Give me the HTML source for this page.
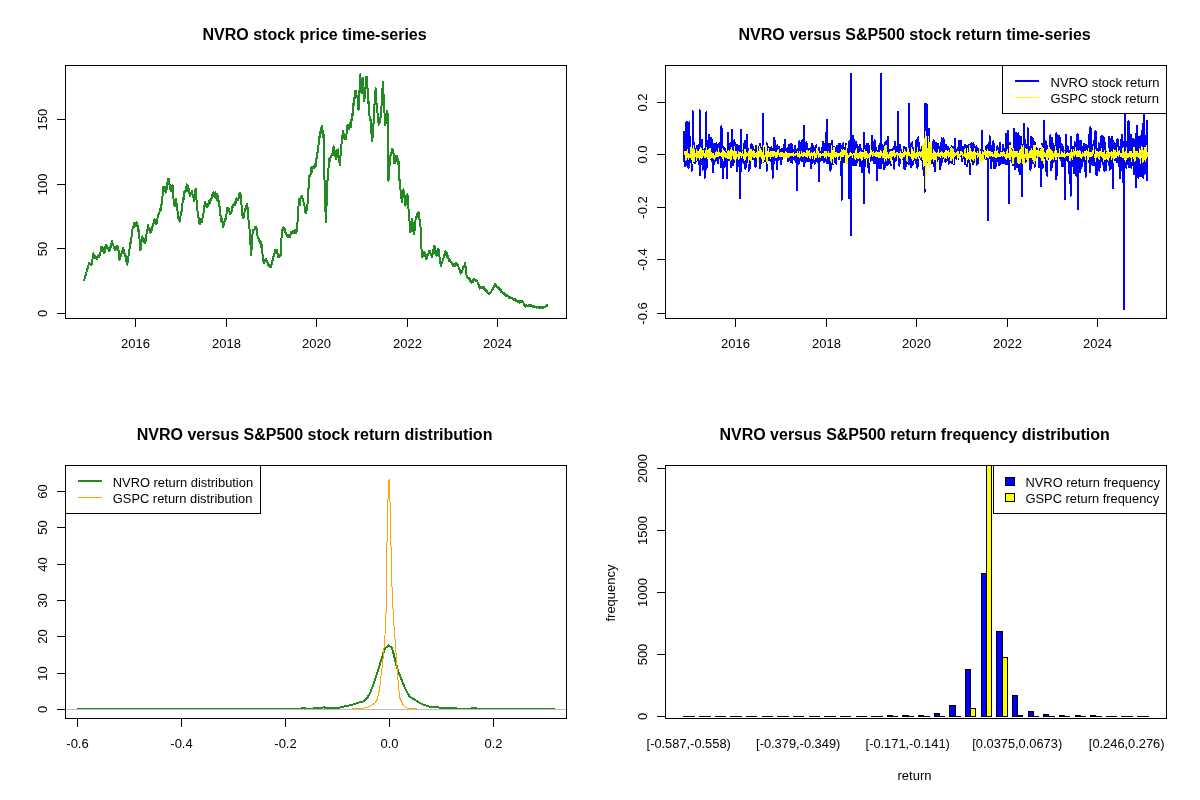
<!DOCTYPE html>
<html><head><meta charset="utf-8"><title>NVRO</title>
<style>
html,body{margin:0;padding:0;background:#fff;}
svg{display:block;font-family:'Liberation Sans', sans-serif;font-size:13px;fill:#000;}
svg path, svg rect{shape-rendering:crispEdges;}
</style></head><body>
<svg width="1200" height="800" viewBox="0 0 1200 800">
<rect x="0" y="0" width="1200" height="800" fill="#fff" stroke="none"/>
<text x="314.6" y="39.5" text-anchor="middle" font-size="16" font-weight="bold">NVRO stock price time-series</text>
<rect x="65.5" y="65.5" width="501.0" height="253.0" fill="none" stroke="#000" stroke-width="1"/>
<path d="M135.5 318.5H497.5" stroke="#000" fill="none"/>
<path d="M135.5 318.5v8M226.5 318.5v8M316.5 318.5v8M407.5 318.5v8M497.5 318.5v8" stroke="#000" fill="none"/>
<text x="135.5" y="348" text-anchor="middle">2016</text>
<text x="226.5" y="348" text-anchor="middle">2018</text>
<text x="316.5" y="348" text-anchor="middle">2020</text>
<text x="407.5" y="348" text-anchor="middle">2022</text>
<text x="497.5" y="348" text-anchor="middle">2024</text>
<path d="M65.5 313.5V119.7" stroke="#000" fill="none"/>
<path d="M65.5 313.5h-9M65.5 248.9h-9M65.5 184.3h-9M65.5 119.7h-9" stroke="#000" fill="none"/>
<text transform="translate(47 313.5) rotate(-90)" text-anchor="middle">0</text>
<text transform="translate(47 248.9) rotate(-90)" text-anchor="middle">50</text>
<text transform="translate(47 184.3) rotate(-90)" text-anchor="middle">100</text>
<text transform="translate(47 119.7) rotate(-90)" text-anchor="middle">150</text>
<path d="M83.8 280.9L84.1 279.9L84.4 279.5L84.6 278.1L84.9 277.1L85.2 275.8L85.4 275.4L85.7 275.5L86.0 274.1L86.2 273.7L86.5 272.0L86.8 271.4L87.0 270.7L87.3 269.7L87.6 267.3L87.8 268.6L88.1 267.5L88.4 266.6L88.6 263.9L88.9 263.0L89.1 263.7L89.4 263.1L89.7 263.7L89.9 264.5L90.2 264.4L90.4 265.1L90.7 264.3L91.0 265.3L91.2 265.5L91.5 265.4L91.7 262.8L92.0 263.1L92.3 260.1L92.6 258.8L92.8 255.1L93.1 253.8L93.4 253.4L93.6 254.2L93.9 254.8L94.1 255.9L94.4 255.9L94.7 255.6L94.9 255.5L95.2 256.3L95.4 258.4L95.7 256.8L95.9 258.2L96.2 258.8L96.4 258.7L96.7 257.1L96.9 258.3L97.2 259.2L97.5 255.8L97.7 257.2L98.0 257.1L98.2 256.2L98.5 257.2L98.7 256.4L99.0 254.8L99.2 256.8L99.5 256.3L99.7 255.4L100.0 255.0L100.3 254.2L100.6 251.7L100.9 250.0L101.1 247.1L101.4 247.1L101.7 248.2L101.9 247.2L102.2 247.8L102.4 247.3L102.7 248.0L102.9 248.9L103.2 251.2L103.4 248.1L103.7 249.0L104.0 251.2L104.2 252.9L104.5 252.3L104.7 252.1L105.0 248.9L105.3 247.0L105.5 248.9L105.8 246.5L106.1 244.8L106.4 244.8L106.6 246.4L106.9 246.9L107.1 246.3L107.4 246.8L107.6 247.5L107.9 249.2L108.2 248.5L108.4 248.9L108.7 249.3L108.9 247.5L109.2 251.0L109.4 251.0L109.7 250.5L109.9 250.0L110.2 246.3L110.5 246.8L110.7 247.4L111.0 243.5L111.2 244.3L111.5 244.7L111.7 241.0L112.0 241.5L112.3 244.1L112.5 243.6L112.8 243.5L113.1 244.8L113.3 245.9L113.6 246.0L113.9 247.9L114.1 246.6L114.4 247.6L114.7 248.8L114.9 249.6L115.2 248.6L115.4 247.5L115.7 249.3L115.9 249.6L116.2 247.6L116.4 246.4L116.7 247.6L116.9 247.5L117.2 247.2L117.5 248.9L117.7 246.3L118.0 247.1L118.2 250.6L118.5 250.0L118.8 252.6L119.1 256.2L119.3 258.7L119.6 259.7L119.9 259.7L120.1 258.3L120.4 257.2L120.6 256.3L120.9 255.8L121.2 254.2L121.4 253.8L121.7 253.2L121.9 251.7L122.2 251.6L122.4 250.5L122.7 251.2L122.9 248.1L123.2 249.3L123.5 249.3L123.7 250.2L124.0 251.4L124.2 253.1L124.5 252.7L124.7 254.2L125.0 256.2L125.3 255.4L125.5 254.6L125.8 257.0L126.1 259.6L126.4 261.1L126.7 262.3L127.0 263.0L127.2 264.7L127.5 263.5L127.8 261.4L128.0 258.9L128.3 260.0L128.5 256.2L128.8 253.5L129.0 252.2L129.3 250.3L129.6 248.8L129.8 247.1L130.1 242.4L130.3 243.3L130.6 243.4L130.8 239.1L131.1 238.8L131.3 238.4L131.6 236.6L131.9 235.8L132.1 230.0L132.4 230.1L132.6 228.5L132.9 227.3L133.1 227.8L133.4 228.1L133.7 222.6L133.9 227.4L134.2 223.6L134.5 226.2L134.7 222.9L135.0 224.9L135.3 226.0L135.5 223.8L135.8 223.9L136.1 224.4L136.3 223.2L136.6 222.5L136.8 222.3L137.1 225.6L137.4 226.1L137.7 225.5L138.0 230.8L138.3 226.7L138.6 230.6L138.8 230.6L139.1 233.6L139.4 237.4L139.7 241.4L139.9 244.1L140.2 247.9L140.5 250.5L140.8 246.6L141.0 244.4L141.3 244.5L141.6 240.5L141.9 238.2L142.1 237.2L142.4 236.4L142.7 239.5L142.9 239.3L143.2 240.5L143.4 238.0L143.7 239.5L143.9 238.5L144.2 241.2L144.4 242.5L144.7 240.0L144.9 243.0L145.2 243.0L145.5 242.2L145.7 240.1L146.0 236.1L146.2 238.4L146.5 234.7L146.7 232.2L147.0 231.7L147.3 229.8L147.5 229.5L147.8 225.6L148.0 224.8L148.3 228.2L148.5 229.2L148.8 229.6L149.1 227.9L149.3 227.7L149.6 230.5L149.8 229.8L150.1 230.4L150.3 232.6L150.6 230.9L150.8 228.8L151.1 232.2L151.3 230.7L151.6 227.8L151.9 230.3L152.1 228.6L152.4 226.3L152.6 226.1L152.9 226.3L153.1 224.2L153.4 224.9L153.6 222.0L153.9 222.5L154.1 222.2L154.4 219.0L154.7 222.3L155.0 219.9L155.2 223.1L155.5 220.1L155.8 222.2L156.1 224.6L156.3 220.7L156.6 223.8L156.8 219.3L157.1 219.9L157.3 218.5L157.6 217.5L157.9 215.5L158.1 215.6L158.4 214.0L158.6 214.8L158.9 212.9L159.2 213.1L159.4 213.2L159.7 210.7L160.0 208.5L160.2 209.0L160.5 211.0L160.8 207.3L161.0 208.1L161.3 204.8L161.5 205.2L161.8 202.6L162.1 198.9L162.3 198.1L162.6 194.7L162.8 190.0L163.1 186.9L163.3 187.5L163.6 186.8L163.9 190.2L164.1 188.0L164.4 187.9L164.7 188.6L164.9 187.7L165.2 190.8L165.5 189.4L165.7 192.7L166.0 192.5L166.3 186.8L166.5 190.3L166.8 187.1L167.1 183.3L167.3 186.9L167.6 183.6L167.9 178.5L168.1 179.7L168.4 180.5L168.6 178.6L168.9 179.0L169.2 182.8L169.4 184.1L169.7 185.3L169.9 186.0L170.2 189.2L170.4 189.3L170.7 190.3L171.0 190.8L171.2 186.1L171.5 190.6L171.8 190.5L172.1 186.5L172.3 185.3L172.6 185.2L172.9 192.2L173.2 188.9L173.4 196.3L173.7 203.1L174.0 200.8L174.3 205.7L174.6 205.8L174.8 206.5L175.1 202.2L175.4 202.3L175.7 201.8L175.9 199.1L176.2 199.6L176.5 202.9L176.7 205.6L177.0 208.4L177.3 209.0L177.5 210.7L177.8 211.5L178.1 214.5L178.3 218.3L178.6 219.0L178.8 219.6L179.1 218.7L179.4 219.2L179.6 222.1L179.9 221.3L180.2 221.1L180.4 218.5L180.7 211.8L181.0 214.7L181.2 212.6L181.5 212.6L181.8 208.8L182.0 206.1L182.3 205.2L182.6 202.4L182.8 198.0L183.1 201.9L183.4 199.5L183.6 196.6L183.9 198.9L184.1 198.7L184.4 191.8L184.7 192.0L184.9 192.5L185.2 190.8L185.5 190.5L185.7 188.9L186.0 187.2L186.2 191.6L186.5 189.6L186.8 184.9L187.0 184.4L187.3 189.0L187.5 185.2L187.8 188.2L188.0 191.0L188.3 190.2L188.6 188.3L188.8 191.6L189.1 188.4L189.3 192.1L189.6 194.5L189.8 195.8L190.1 196.0L190.4 193.1L190.7 193.5L191.0 193.8L191.3 192.9L191.5 192.7L191.8 190.8L192.1 192.3L192.3 192.5L192.6 195.6L192.9 195.3L193.1 194.9L193.4 196.4L193.6 198.6L193.9 199.5L194.2 200.8L194.4 199.1L194.7 196.9L195.0 195.3L195.3 192.8L195.5 188.8L195.8 189.2L196.1 193.5L196.4 198.2L196.6 200.7L196.9 203.2L197.2 207.8L197.5 210.7L197.7 211.3L198.0 212.0L198.3 217.1L198.6 217.7L198.8 222.3L199.1 223.3L199.4 221.4L199.6 218.9L199.9 220.8L200.1 224.1L200.4 221.1L200.6 219.4L200.9 219.9L201.2 221.4L201.4 221.0L201.7 220.2L201.9 221.8L202.2 220.4L202.4 219.0L202.7 217.1L202.9 216.2L203.2 216.0L203.5 213.1L203.7 211.4L204.0 206.2L204.2 205.9L204.5 205.5L204.7 202.4L205.0 202.3L205.3 204.9L205.5 204.4L205.8 205.3L206.1 203.7L206.3 206.5L206.6 206.5L206.9 204.7L207.1 205.6L207.4 205.7L207.7 206.5L207.9 204.2L208.2 205.7L208.4 205.3L208.7 203.2L208.9 200.7L209.2 202.5L209.4 202.3L209.7 203.1L209.9 202.0L210.2 200.2L210.5 201.1L210.7 199.1L211.0 199.7L211.2 198.8L211.5 198.2L211.7 197.3L212.0 198.6L212.2 195.2L212.5 195.6L212.7 196.3L213.0 193.4L213.2 194.8L213.5 192.4L213.8 193.7L214.0 195.6L214.3 195.2L214.5 193.8L214.8 193.1L215.0 193.2L215.3 192.4L215.5 197.6L215.8 195.8L216.0 197.4L216.3 194.5L216.5 196.3L216.8 194.1L217.1 199.2L217.3 200.0L217.6 195.8L217.8 199.5L218.1 201.3L218.3 200.8L218.6 200.0L218.8 201.1L219.1 204.0L219.4 206.4L219.6 206.8L219.9 210.8L220.1 212.8L220.4 215.0L220.6 215.7L220.9 218.0L221.2 220.5L221.4 221.2L221.7 218.9L221.9 221.4L222.2 221.9L222.5 223.2L222.7 225.9L223.0 227.3L223.2 226.5L223.5 226.3L223.8 222.6L224.0 222.2L224.3 223.1L224.6 222.0L224.8 221.0L225.1 220.6L225.4 218.7L225.6 219.0L225.9 218.8L226.1 217.2L226.4 215.3L226.6 213.3L226.9 212.8L227.2 207.7L227.4 209.2L227.7 209.6L227.9 208.4L228.2 207.6L228.5 209.8L228.7 210.3L229.0 208.5L229.3 210.8L229.5 211.3L229.8 213.0L230.1 213.8L230.3 213.4L230.6 214.0L230.8 212.0L231.1 212.3L231.4 211.6L231.6 212.1L231.9 210.7L232.1 208.3L232.4 206.5L232.6 207.3L232.9 206.0L233.1 204.6L233.4 205.4L233.6 204.0L233.9 204.1L234.2 203.9L234.4 204.2L234.7 202.3L234.9 204.9L235.2 201.6L235.4 203.6L235.7 201.6L235.9 202.9L236.2 198.3L236.4 199.0L236.7 200.3L237.0 200.5L237.2 199.1L237.5 199.9L237.7 198.8L238.0 199.9L238.2 198.7L238.5 198.6L238.7 197.4L239.0 195.8L239.2 196.5L239.5 193.3L239.8 196.9L240.0 192.7L240.3 194.4L240.5 193.5L240.8 200.0L241.0 198.6L241.3 201.8L241.6 206.4L241.8 207.3L242.1 208.8L242.3 213.2L242.6 216.4L242.8 218.3L243.1 218.3L243.4 215.0L243.7 217.7L244.0 216.5L244.3 212.9L244.5 212.2L244.8 210.7L245.1 209.3L245.3 211.5L245.6 207.4L245.9 208.8L246.1 206.3L246.4 205.2L246.6 206.7L246.9 207.0L247.1 204.1L247.4 206.8L247.7 208.5L247.9 213.6L248.2 215.1L248.4 218.3L248.7 222.8L249.0 225.0L249.2 225.5L249.5 228.9L249.7 236.3L250.0 237.8L250.3 243.1L250.6 245.9L250.8 251.0L251.1 255.4L251.4 249.7L251.7 249.7L252.0 245.4L252.2 238.5L252.5 234.2L252.8 232.2L253.0 229.8L253.3 233.0L253.5 230.5L253.8 230.6L254.1 229.9L254.3 229.8L254.6 228.1L254.8 229.2L255.1 226.9L255.3 228.3L255.6 228.5L255.8 228.3L256.1 227.3L256.4 228.3L256.6 228.7L256.9 231.5L257.2 232.0L257.4 235.9L257.7 236.2L257.9 236.4L258.2 237.3L258.5 238.4L258.7 240.5L259.0 239.7L259.3 240.5L259.5 241.4L259.8 241.9L260.0 242.1L260.3 243.0L260.5 241.0L260.8 242.0L261.1 242.2L261.3 247.4L261.6 244.3L261.9 247.9L262.1 250.7L262.4 252.8L262.6 255.1L262.9 256.6L263.2 259.2L263.4 261.0L263.7 263.0L264.0 263.3L264.2 260.4L264.5 260.8L264.7 261.1L265.0 259.7L265.3 259.2L265.5 260.3L265.8 258.6L266.0 258.7L266.3 260.1L266.6 260.9L266.8 261.2L267.1 262.1L267.4 262.3L267.6 261.9L267.9 263.8L268.1 265.0L268.4 264.8L268.7 266.0L268.9 265.9L269.2 266.5L269.5 265.1L269.7 266.3L270.0 266.8L270.3 265.2L270.5 265.7L270.8 265.4L271.1 266.8L271.3 265.4L271.6 264.6L271.8 264.1L272.1 261.7L272.3 261.3L272.6 260.3L272.9 257.6L273.1 259.6L273.4 258.1L273.6 254.5L273.9 255.9L274.1 254.0L274.4 253.6L274.6 252.1L274.9 252.3L275.2 250.2L275.4 251.3L275.7 252.9L275.9 250.6L276.2 249.9L276.4 249.7L276.7 249.7L277.0 250.5L277.2 251.8L277.5 254.2L277.8 253.9L278.1 254.7L278.3 257.2L278.6 256.4L278.9 255.8L279.2 255.5L279.5 256.5L279.8 256.4L280.0 254.7L280.3 254.6L280.6 255.4L280.9 250.8L281.1 245.8L281.4 239.0L281.7 235.3L281.9 230.6L282.2 229.4L282.5 230.2L282.8 229.0L283.1 228.6L283.3 227.7L283.6 229.2L283.9 227.3L284.2 229.9L284.5 228.3L284.7 230.7L285.0 229.3L285.3 231.1L285.5 232.8L285.8 234.5L286.1 232.8L286.4 234.0L286.6 235.0L286.9 235.6L287.2 234.8L287.4 235.9L287.7 235.3L287.9 236.8L288.2 235.1L288.4 234.8L288.7 236.9L289.0 237.3L289.2 237.2L289.5 236.0L289.7 237.3L290.0 235.4L290.3 234.5L290.5 235.3L290.8 232.2L291.1 232.9L291.3 233.2L291.6 233.8L291.9 232.2L292.1 231.9L292.4 232.5L292.6 231.1L292.9 232.3L293.2 233.0L293.4 230.8L293.7 233.0L294.0 230.7L294.2 231.5L294.5 231.6L294.7 232.6L295.0 229.8L295.3 229.8L295.5 231.8L295.8 232.0L296.0 231.7L296.3 233.0L296.6 230.9L296.8 230.6L297.1 226.8L297.4 223.6L297.7 218.7L297.9 216.6L298.2 207.9L298.5 205.7L298.7 204.4L299.0 198.5L299.3 204.8L299.5 202.1L299.8 203.5L300.0 204.8L300.3 200.4L300.5 199.2L300.8 198.0L301.0 196.7L301.3 196.2L301.5 197.7L301.8 195.8L302.1 196.9L302.3 197.9L302.6 198.5L302.9 201.3L303.1 201.6L303.4 201.5L303.7 203.9L303.9 203.5L304.2 202.9L304.5 205.7L304.7 209.5L305.0 209.4L305.2 208.6L305.5 213.3L305.8 213.0L306.1 212.1L306.3 207.5L306.6 211.1L306.9 207.5L307.2 206.9L307.5 204.3L307.8 202.4L308.0 196.9L308.3 189.0L308.6 188.4L308.8 181.3L309.1 175.9L309.4 175.4L309.7 176.6L310.0 175.9L310.3 175.3L310.5 175.6L310.8 172.7L311.1 172.5L311.3 167.4L311.6 170.1L311.9 171.5L312.1 172.1L312.4 167.7L312.6 167.7L312.9 167.2L313.2 168.5L313.4 166.4L313.7 168.5L313.9 168.5L314.2 166.6L314.5 168.5L314.7 165.2L315.0 166.0L315.2 165.3L315.5 163.6L315.7 162.9L316.0 164.1L316.3 165.8L316.5 157.9L316.8 157.0L317.0 158.3L317.3 156.1L317.6 151.0L317.9 152.0L318.1 149.6L318.4 145.0L318.7 144.3L319.0 137.0L319.3 137.8L319.5 138.6L319.8 131.6L320.1 132.6L320.3 131.8L320.6 131.0L320.9 133.1L321.1 129.9L321.4 127.5L321.7 128.8L321.9 126.2L322.2 132.3L322.5 130.0L322.8 132.9L323.1 137.0L323.3 136.4L323.6 134.4L323.9 139.5L324.2 164.9L324.6 183.6L324.9 199.1L325.2 203.6L325.6 214.5L325.9 222.3L326.2 215.6L326.4 209.3L326.7 201.6L327.0 192.7L327.2 185.9L327.5 180.5L327.8 179.4L328.1 178.0L328.4 170.4L328.6 167.2L328.9 165.9L329.2 162.7L329.5 157.7L329.7 160.6L330.0 159.5L330.2 160.7L330.5 157.4L330.8 156.3L331.0 156.6L331.3 156.7L331.5 156.1L331.8 153.5L332.0 154.0L332.3 154.7L332.6 154.7L332.8 154.9L333.1 148.0L333.3 147.9L333.6 146.0L333.8 146.8L334.1 153.1L334.4 148.7L334.7 152.1L335.0 155.2L335.3 152.7L335.6 158.6L335.8 159.4L336.1 158.2L336.4 153.1L336.6 156.7L336.9 157.7L337.1 149.6L337.4 154.6L337.6 152.1L337.9 151.6L338.2 149.4L338.4 153.1L338.7 157.7L339.0 156.9L339.3 162.0L339.5 161.8L339.8 165.3L340.1 163.4L340.4 156.6L340.6 154.7L340.9 155.4L341.2 149.0L341.5 144.5L341.7 141.9L342.0 137.2L342.3 135.9L342.6 136.1L342.8 135.8L343.1 131.2L343.4 133.1L343.7 134.2L343.9 133.6L344.2 138.0L344.4 134.4L344.7 134.8L345.0 139.2L345.2 138.0L345.5 138.0L345.8 139.5L346.0 135.7L346.3 134.2L346.6 134.1L346.8 131.1L347.1 127.9L347.4 125.4L347.6 128.7L347.9 127.9L348.2 125.4L348.4 128.7L348.7 126.2L349.0 125.9L349.2 128.7L349.5 128.7L349.7 126.2L350.0 123.3L350.3 125.2L350.6 120.6L350.9 127.0L351.1 119.4L351.4 119.6L351.7 120.4L352.0 113.4L352.2 115.3L352.5 117.1L352.8 105.6L353.1 106.4L353.3 103.4L353.6 104.5L353.8 101.1L354.1 97.8L354.3 104.6L354.6 96.7L354.9 90.7L355.1 95.7L355.4 91.5L355.7 90.7L355.9 96.4L356.2 91.8L356.5 94.7L356.8 97.2L357.1 96.1L357.4 96.4L357.6 95.6L357.9 96.7L358.2 107.8L358.4 109.2L358.7 109.7L359.0 100.3L359.2 98.4L359.5 90.4L359.8 83.9L360.0 74.9L360.3 74.1L360.6 80.0L360.8 86.9L361.1 89.4L361.4 92.8L361.7 93.1L361.9 82.5L362.2 87.7L362.5 85.7L362.7 89.4L363.0 78.2L363.3 79.8L363.5 86.5L363.8 92.2L364.1 99.4L364.3 101.4L364.6 96.5L364.9 97.8L365.2 88.3L365.5 88.0L365.7 82.0L366.0 80.6L366.3 76.6L366.6 77.1L366.9 77.0L367.1 88.3L367.4 88.6L367.7 88.6L368.0 93.1L368.2 97.6L368.5 103.8L368.8 101.9L369.1 108.3L369.3 114.0L369.6 116.3L369.9 120.2L370.2 120.4L370.5 118.1L370.7 129.5L371.0 129.6L371.3 131.2L371.6 134.6L371.9 137.1L372.3 141.2L372.5 138.2L372.8 132.8L373.1 127.6L373.3 124.6L373.6 122.9L373.9 116.3L374.2 111.3L374.4 104.7L374.7 104.9L375.0 94.2L375.3 95.1L375.6 88.2L375.9 88.6L376.1 96.4L376.4 103.0L376.7 103.1L377.0 104.0L377.2 109.7L377.5 112.8L377.8 116.1L378.0 113.9L378.3 120.0L378.6 124.6L378.8 123.9L379.1 121.1L379.4 121.5L379.7 122.2L379.9 121.2L380.2 118.0L380.5 118.0L380.8 114.7L381.1 109.7L381.3 108.0L381.6 104.8L381.9 103.1L382.2 94.9L382.5 88.1L382.9 81.5L383.1 81.7L383.4 91.8L383.7 98.4L383.9 101.2L384.2 109.7L384.5 112.6L384.7 117.1L385.0 118.2L385.3 125.4L385.5 124.6L385.8 115.7L386.1 120.2L386.4 113.9L386.7 119.7L386.9 122.5L387.2 110.5L387.5 111.3L387.8 134.9L388.2 158.9L388.5 180.9L388.8 176.2L389.1 173.8L389.3 163.8L389.6 166.2L389.9 161.0L390.2 156.1L390.4 155.4L390.7 153.4L391.0 155.5L391.2 152.3L391.5 153.3L391.7 150.9L392.0 148.6L392.3 150.7L392.5 150.6L392.8 149.4L393.1 153.1L393.4 151.2L393.7 155.0L393.9 158.4L394.2 159.2L394.5 163.5L394.8 162.7L395.1 163.5L395.4 158.8L395.6 155.6L395.9 160.8L396.2 161.4L396.5 159.1L396.8 156.1L397.1 159.3L397.4 157.5L397.6 158.7L397.9 163.7L398.2 161.2L398.5 160.7L398.8 166.0L399.0 167.8L399.3 178.8L399.6 181.4L399.9 180.1L400.2 183.9L400.4 189.2L400.7 191.8L401.0 192.3L401.3 198.1L401.5 197.9L401.8 198.4L402.1 202.4L402.3 202.0L402.6 196.1L402.9 194.9L403.1 191.8L403.4 189.2L403.7 191.0L404.0 194.5L404.3 195.1L404.5 195.5L404.8 197.3L405.1 201.3L405.4 205.7L405.7 202.8L406.0 202.4L406.2 200.9L406.5 200.1L406.8 197.7L407.1 194.4L407.4 194.2L407.6 196.2L407.9 197.2L408.2 203.8L408.4 208.2L408.7 210.7L409.0 215.1L409.3 217.7L409.5 221.2L409.8 226.4L410.1 228.7L410.4 232.2L410.6 231.0L410.9 228.6L411.2 225.9L411.5 225.2L411.7 220.4L412.0 219.0L412.3 220.6L412.6 222.1L412.9 224.3L413.2 229.6L413.4 232.0L413.7 231.8L414.0 233.9L414.3 232.3L414.6 230.7L414.9 227.9L415.1 226.1L415.4 220.3L415.7 218.8L416.0 217.3L416.3 217.5L416.5 218.1L416.8 216.0L417.1 214.1L417.3 214.3L417.6 213.4L417.9 212.5L418.1 215.7L418.4 211.9L418.6 212.4L418.9 214.1L419.2 218.9L419.5 219.1L419.7 219.5L420.0 219.8L420.3 222.3L420.6 228.7L420.9 236.0L421.1 240.4L421.4 246.9L421.7 251.4L422.0 257.1L422.2 257.0L422.5 255.8L422.7 255.9L423.0 256.2L423.2 252.9L423.5 253.7L423.8 253.5L424.0 252.1L424.3 252.1L424.5 252.5L424.8 254.4L425.0 256.3L425.3 255.7L425.6 256.1L425.8 255.0L426.1 259.1L426.3 258.1L426.6 258.7L426.9 257.9L427.1 256.0L427.4 256.2L427.7 254.3L427.9 254.7L428.2 254.2L428.4 253.0L428.7 252.4L429.0 250.4L429.2 250.5L429.5 252.6L429.8 251.1L430.0 250.6L430.3 252.9L430.6 253.0L430.8 253.4L431.1 254.7L431.4 256.0L431.6 255.3L431.9 257.1L432.2 255.7L432.4 255.9L432.7 253.9L432.9 251.8L433.2 250.8L433.4 249.2L433.7 248.0L434.0 247.6L434.2 245.5L434.5 247.0L434.8 246.2L435.0 250.4L435.3 251.2L435.6 254.4L435.9 255.4L436.1 254.2L436.4 254.4L436.7 255.9L436.9 252.0L437.2 251.3L437.5 250.4L437.7 248.7L438.0 248.7L438.3 250.5L438.5 249.5L438.8 250.6L439.0 251.1L439.3 253.3L439.5 257.1L439.8 257.6L440.1 259.7L440.3 262.1L440.6 264.8L440.8 265.4L441.1 266.2L441.4 264.8L441.6 263.3L441.9 262.6L442.1 263.3L442.4 262.3L442.6 259.9L442.9 259.9L443.2 258.7L443.4 258.4L443.7 257.5L444.0 256.3L444.2 254.8L444.5 254.9L444.7 253.2L445.0 255.3L445.3 254.0L445.5 251.5L445.8 252.1L446.1 254.2L446.3 254.3L446.6 252.2L446.9 256.6L447.1 256.2L447.4 258.1L447.7 255.6L447.9 257.9L448.2 258.5L448.5 258.7L448.7 259.3L449.0 259.6L449.2 260.8L449.5 258.8L449.7 259.4L450.0 259.7L450.3 260.8L450.5 261.1L450.8 262.1L451.0 262.6L451.3 262.8L451.5 262.8L451.8 262.5L452.0 262.9L452.3 264.4L452.6 264.5L452.8 264.2L453.1 264.1L453.3 266.0L453.6 264.3L453.8 265.7L454.1 265.4L454.3 266.2L454.6 264.9L454.9 265.7L455.1 263.9L455.4 265.6L455.6 264.8L455.9 263.1L456.1 264.9L456.4 263.4L456.6 265.2L456.9 263.4L457.1 263.7L457.4 263.7L457.7 264.7L457.9 265.0L458.2 266.2L458.4 266.3L458.7 268.1L458.9 268.3L459.2 269.2L459.4 267.6L459.7 271.5L459.9 271.4L460.2 270.7L460.5 273.0L460.7 273.6L461.0 273.5L461.2 273.4L461.5 271.1L461.7 272.7L462.0 270.8L462.3 272.3L462.5 269.7L462.8 269.8L463.0 268.7L463.3 267.5L463.6 266.0L463.9 267.1L464.2 266.1L464.5 265.8L464.7 264.3L465.0 262.7L465.3 264.6L465.6 266.1L465.8 269.3L466.1 271.7L466.4 274.0L466.7 277.0L466.9 277.6L467.2 277.6L467.4 277.3L467.7 277.8L468.0 277.8L468.2 278.2L468.5 278.8L468.7 279.1L469.0 278.6L469.3 278.5L469.5 278.4L469.8 280.8L470.1 280.3L470.3 281.3L470.6 279.9L470.8 281.2L471.1 281.8L471.4 281.3L471.6 282.6L471.9 281.9L472.2 282.3L472.4 282.2L472.7 282.2L472.9 280.2L473.2 279.4L473.4 280.4L473.7 280.3L474.0 279.3L474.2 279.6L474.5 278.7L474.7 280.3L475.0 280.4L475.2 280.4L475.5 279.9L475.7 280.6L476.0 281.0L476.3 280.3L476.5 279.6L476.8 281.2L477.0 281.4L477.3 281.3L477.5 282.0L477.8 283.3L478.0 283.1L478.3 284.2L478.6 284.8L478.8 286.0L479.1 287.4L479.3 287.0L479.6 287.9L479.8 288.7L480.1 288.6L480.4 288.1L480.6 287.9L480.9 288.5L481.1 287.3L481.4 287.3L481.6 286.7L481.9 287.5L482.1 287.9L482.4 287.4L482.7 287.2L482.9 286.9L483.2 287.1L483.4 287.7L483.7 287.1L484.0 288.8L484.2 288.3L484.5 288.3L484.8 288.8L485.0 289.1L485.3 290.3L485.6 290.2L485.8 291.1L486.1 290.1L486.3 291.7L486.6 292.0L486.8 291.6L487.1 291.4L487.3 292.1L487.6 292.5L487.8 293.4L488.1 293.3L488.4 292.8L488.6 294.3L488.9 294.5L489.1 293.4L489.4 294.3L489.6 292.9L489.9 292.8L490.1 292.4L490.4 292.2L490.7 292.9L490.9 292.3L491.2 291.9L491.4 291.4L491.7 290.0L491.9 290.3L492.2 290.2L492.4 289.5L492.7 288.8L492.9 289.2L493.2 288.1L493.5 287.6L493.7 287.0L494.0 286.0L494.2 287.1L494.5 287.1L494.7 286.0L495.0 284.8L495.2 283.8L495.5 284.6L495.7 285.0L496.0 285.9L496.3 285.7L496.5 286.4L496.8 287.0L497.0 287.1L497.3 286.5L497.5 287.6L497.8 287.8L498.0 286.7L498.3 287.7L498.5 287.4L498.8 288.6L499.1 288.8L499.3 289.4L499.6 288.7L499.9 288.5L500.1 290.6L500.4 290.3L500.6 291.2L500.9 289.9L501.2 291.5L501.4 292.3L501.7 292.5L501.9 291.6L502.2 292.1L502.5 292.1L502.7 293.0L503.0 293.3L503.2 293.0L503.5 292.6L503.8 293.5L504.0 294.1L504.3 293.6L504.6 294.4L504.8 294.3L505.1 295.2L505.3 295.1L505.6 294.5L505.9 295.1L506.1 295.9L506.4 295.0L506.6 295.6L506.9 296.2L507.2 296.4L507.4 296.2L507.7 295.5L508.0 295.7L508.2 296.6L508.5 296.8L508.7 296.8L509.0 298.1L509.3 296.7L509.5 297.7L509.8 297.7L510.0 296.7L510.3 297.2L510.6 297.8L510.8 297.6L511.1 297.9L511.4 298.3L511.6 297.8L511.9 298.5L512.1 298.1L512.4 298.3L512.7 298.9L512.9 298.5L513.2 299.0L513.4 299.7L513.7 299.2L514.0 299.3L514.2 299.4L514.5 299.9L514.8 299.6L515.0 300.3L515.3 299.4L515.5 300.4L515.8 300.1L516.1 300.1L516.3 301.3L516.6 300.3L516.8 301.5L517.1 301.2L517.4 301.7L517.6 300.8L517.9 301.9L518.2 302.1L518.4 301.6L518.7 301.8L518.9 301.7L519.2 302.6L519.5 301.7L519.7 301.5L520.0 301.3L520.3 301.7L520.5 301.6L520.8 301.5L521.1 302.1L521.3 301.2L521.6 301.5L521.9 301.9L522.1 300.8L522.4 301.6L522.7 301.1L522.9 302.6L523.2 302.0L523.5 302.9L523.8 303.6L524.1 304.0L524.4 305.6L524.6 306.1L524.9 305.5L525.2 306.2L525.4 306.6L525.7 305.5L525.9 305.9L526.2 305.4L526.4 306.3L526.7 305.7L526.9 305.9L527.2 306.0L527.5 306.1L527.7 305.8L528.0 305.9L528.2 305.7L528.5 305.9L528.7 305.5L529.0 305.9L529.2 305.2L529.5 305.7L529.8 306.5L530.0 305.8L530.3 305.8L530.5 305.4L530.8 306.0L531.1 305.6L531.3 305.4L531.6 305.8L531.8 306.3L532.1 306.3L532.4 306.2L532.6 305.9L532.9 305.9L533.1 306.8L533.4 306.5L533.7 306.1L533.9 305.8L534.2 306.1L534.5 307.5L534.7 306.3L535.0 306.7L535.2 306.8L535.5 306.9L535.7 306.8L536.0 306.8L536.3 306.5L536.5 306.6L536.8 307.6L537.0 306.8L537.3 307.4L537.5 306.6L537.8 307.1L538.0 307.3L538.3 307.6L538.6 306.9L538.8 307.5L539.1 307.5L539.3 307.1L539.6 307.6L539.8 307.2L540.1 307.2L540.3 307.5L540.6 306.7L540.8 307.6L541.1 307.3L541.4 307.2L541.6 307.6L541.9 307.8L542.1 307.9L542.4 307.5L542.6 307.9L542.9 307.1L543.1 307.0L543.4 307.8L543.6 307.4L543.9 307.5L544.2 306.8L544.4 307.3L544.7 307.0L544.9 307.1L545.2 306.8L545.4 306.6L545.7 306.9L546.0 306.1L546.2 305.9L546.5 305.5L546.7 306.3L547.0 305.5L547.2 305.2L547.5 305.4" fill="none" stroke="#228B22" stroke-width="2" stroke-linejoin="round" />
<text x="914.6" y="39.5" text-anchor="middle" font-size="16" font-weight="bold">NVRO versus S&amp;P500 stock return time-series</text>
<rect x="665.5" y="65.5" width="501.0" height="253.0" fill="none" stroke="#000" stroke-width="1"/>
<path d="M735.5 318.5H1097.5" stroke="#000" fill="none"/>
<path d="M735.5 318.5v8M826.5 318.5v8M916.5 318.5v8M1007.5 318.5v8M1097.5 318.5v8" stroke="#000" fill="none"/>
<text x="735.5" y="348" text-anchor="middle">2016</text>
<text x="826.5" y="348" text-anchor="middle">2018</text>
<text x="916.5" y="348" text-anchor="middle">2020</text>
<text x="1007.5" y="348" text-anchor="middle">2022</text>
<text x="1097.5" y="348" text-anchor="middle">2024</text>
<path d="M665.5 313.5V102.5" stroke="#000" fill="none"/>
<path d="M665.5 313.5h-9M665.5 259.5h-9M665.5 207.5h-9M665.5 154.5h-9M665.5 102.5h-9" stroke="#000" fill="none"/>
<text transform="translate(647 313.5) rotate(-90)" text-anchor="middle">-0.6</text>
<text transform="translate(647 259.5) rotate(-90)" text-anchor="middle">-0.4</text>
<text transform="translate(647 207.5) rotate(-90)" text-anchor="middle">-0.2</text>
<text transform="translate(647 154.5) rotate(-90)" text-anchor="middle">0.0</text>
<text transform="translate(647 102.5) rotate(-90)" text-anchor="middle">0.2</text>
<path d="M683.8 131.2L684.0 161.3L684.2 157.5L684.3 159.7L684.5 153.9L684.7 153.2L684.9 166.0L685.1 158.8L685.2 158.3L685.4 156.1L685.6 156.9L685.8 149.3L686.0 146.4L686.1 140.8L686.3 141.8L686.5 122.3L686.7 153.9L686.9 165.5L687.0 142.7L687.2 145.7L687.4 153.5L687.6 154.4L687.8 122.3L688.0 155.4L688.1 167.7L688.3 155.9L688.5 161.8L688.7 159.6L688.9 166.9L689.0 167.5L689.2 122.3L689.4 138.0L689.6 151.7L689.8 161.4L689.9 137.3L690.1 158.5L690.3 161.4L690.5 158.0L690.7 152.5L690.8 161.0L691.0 160.7L691.2 151.0L691.4 152.5L691.6 170.8L691.7 169.3L691.9 156.3L692.1 170.1L692.3 166.7L692.5 148.2L692.6 161.4L692.8 111.3L693.0 151.2L693.2 159.4L693.4 162.0L693.5 150.5L693.7 142.9L693.9 151.3L694.1 159.1L694.3 156.7L694.4 160.1L694.6 150.3L694.8 152.0L695.0 154.5L695.2 163.5L695.4 156.4L695.5 158.4L695.7 154.5L695.9 161.4L696.1 152.2L696.3 160.7L696.4 148.1L696.6 159.4L696.8 156.6L697.0 150.5L697.2 146.0L697.3 160.5L697.5 147.0L697.7 148.7L697.9 154.6L698.1 153.7L698.2 157.9L698.4 156.7L698.6 154.7L698.8 149.9L699.0 155.2L699.1 145.0L699.3 153.4L699.5 164.6L699.7 110.3L699.9 153.6L700.0 147.8L700.2 152.3L700.4 175.3L700.6 158.4L700.8 156.7L700.9 152.8L701.1 157.2L701.3 156.8L701.5 158.7L701.7 140.0L701.8 160.2L702.0 154.7L702.2 150.0L702.4 153.7L702.6 155.8L702.8 169.7L702.9 165.6L703.1 154.1L703.3 155.9L703.5 150.0L703.7 155.7L703.8 152.1L704.0 153.2L704.2 152.2L704.4 149.0L704.6 153.7L704.7 177.6L704.9 155.6L705.1 153.0L705.3 155.7L705.5 164.5L705.6 164.9L705.8 151.3L706.0 159.1L706.2 163.1L706.4 112.3L706.5 169.3L706.7 155.8L706.9 142.2L707.1 148.7L707.3 163.6L707.4 165.2L707.6 150.1L707.8 155.1L708.0 151.0L708.2 140.3L708.3 150.8L708.5 142.8L708.7 149.3L708.9 157.1L709.1 135.2L709.3 147.2L709.4 152.2L709.6 154.2L709.8 151.1L710.0 156.4L710.2 155.4L710.3 155.6L710.5 157.0L710.7 137.8L710.9 157.4L711.1 159.1L711.2 158.4L711.4 154.1L711.6 153.1L711.8 154.7L712.0 160.8L712.1 143.9L712.3 140.4L712.5 153.1L712.7 154.9L712.9 151.0L713.0 172.6L713.2 146.4L713.4 160.4L713.6 155.2L713.8 156.7L713.9 164.4L714.1 159.9L714.3 143.9L714.5 150.2L714.7 161.4L714.8 155.5L715.0 150.6L715.2 155.3L715.4 154.6L715.6 144.1L715.7 156.6L715.9 158.0L716.1 160.6L716.3 146.2L716.5 143.3L716.7 150.2L716.8 150.3L717.0 150.7L717.2 150.9L717.4 152.6L717.6 156.7L717.7 149.6L717.9 146.3L718.1 163.1L718.3 149.8L718.5 160.7L718.6 154.0L718.8 145.6L719.0 147.2L719.2 143.3L719.4 150.6L719.5 154.5L719.7 144.2L719.9 158.2L720.1 155.2L720.3 149.1L720.4 153.8L720.6 159.4L720.8 166.9L721.0 155.8L721.2 141.0L721.3 143.4L721.5 126.2L721.7 145.6L721.9 157.2L722.1 158.1L722.2 161.6L722.4 155.1L722.6 151.7L722.8 156.4L723.0 178.3L723.1 147.1L723.3 150.0L723.5 163.5L723.7 158.7L723.9 162.9L724.1 152.4L724.2 156.4L724.4 149.8L724.6 166.7L724.8 148.4L725.0 158.4L725.1 160.2L725.3 154.2L725.5 153.5L725.7 158.6L725.9 156.8L726.0 153.6L726.2 154.8L726.4 157.9L726.6 154.8L726.8 158.5L726.9 178.3L727.1 152.3L727.3 159.1L727.5 154.2L727.7 159.2L727.8 132.9L728.0 156.5L728.2 154.0L728.4 160.0L728.6 158.4L728.7 156.4L728.9 157.7L729.1 157.1L729.3 159.3L729.5 159.9L729.6 156.5L729.8 150.5L730.0 160.0L730.2 155.6L730.4 151.4L730.5 143.4L730.7 147.6L730.9 146.8L731.1 167.0L731.3 153.2L731.5 160.9L731.6 157.3L731.8 129.6L732.0 156.8L732.2 159.9L732.4 163.0L732.5 142.9L732.7 149.8L732.9 151.2L733.1 165.4L733.3 160.0L733.4 162.2L733.6 159.3L733.8 147.3L734.0 162.6L734.2 143.0L734.3 144.9L734.5 139.7L734.7 155.4L734.9 156.6L735.1 146.3L735.2 150.4L735.4 145.4L735.6 154.9L735.8 159.9L736.0 149.0L736.1 154.4L736.3 156.6L736.5 158.2L736.7 155.4L736.9 145.3L737.0 160.4L737.2 171.0L737.4 154.3L737.6 157.6L737.8 166.4L737.9 153.2L738.1 156.4L738.3 158.4L738.5 146.5L738.7 154.8L738.9 151.9L739.0 158.1L739.2 145.5L739.4 148.8L739.6 159.2L739.8 198.1L739.9 157.4L740.1 159.4L740.3 152.1L740.5 160.0L740.7 171.9L740.8 129.6L741.0 155.5L741.2 159.4L741.4 167.1L741.6 153.3L741.7 157.4L741.9 150.9L742.1 157.8L742.3 162.4L742.5 150.7L742.6 152.1L742.8 159.2L743.0 156.1L743.2 150.4L743.4 156.3L743.5 151.7L743.7 155.8L743.9 143.7L744.1 149.1L744.3 163.4L744.4 160.0L744.6 150.8L744.8 140.8L745.0 157.4L745.2 153.6L745.3 148.3L745.5 169.3L745.7 157.6L745.9 157.0L746.1 161.7L746.3 155.1L746.4 160.8L746.6 157.5L746.8 147.0L747.0 150.3L747.2 134.5L747.3 161.6L747.5 157.4L747.7 148.1L747.9 151.7L748.1 155.9L748.2 161.0L748.4 151.9L748.6 171.1L748.8 153.1L749.0 157.4L749.1 158.4L749.3 155.7L749.5 158.1L749.7 156.7L749.9 156.8L750.0 155.9L750.2 168.5L750.4 152.8L750.6 151.7L750.8 150.4L750.9 150.1L751.1 145.3L751.3 154.7L751.5 148.8L751.7 144.4L751.8 154.4L752.0 144.4L752.2 149.5L752.4 154.4L752.6 151.9L752.8 146.9L752.9 159.0L753.1 151.0L753.3 154.8L753.5 153.1L753.7 149.8L753.8 156.7L754.0 159.1L754.2 157.2L754.4 158.2L754.6 152.7L754.7 154.4L754.9 155.5L755.1 154.8L755.3 160.4L755.5 167.0L755.6 159.2L755.8 148.6L756.0 166.0L756.2 145.8L756.4 154.0L756.5 145.7L756.7 158.2L756.9 149.6L757.1 160.6L757.3 157.0L757.4 157.6L757.6 159.1L757.8 157.8L758.0 151.3L758.2 151.7L758.3 150.7L758.5 153.0L758.7 156.9L758.9 153.7L759.1 158.1L759.2 150.3L759.4 146.1L759.6 157.3L759.8 167.9L760.0 159.7L760.2 154.1L760.3 143.5L760.5 153.9L760.7 148.0L760.9 157.3L761.1 153.8L761.2 153.6L761.4 155.4L761.6 151.5L761.8 156.1L762.0 149.8L762.1 163.0L762.3 152.1L762.5 159.1L762.7 114.0L762.9 162.1L763.0 157.9L763.2 142.7L763.4 162.5L763.6 151.8L763.8 150.3L763.9 157.1L764.1 150.9L764.3 154.9L764.5 149.6L764.7 147.5L764.8 149.4L765.0 161.0L765.2 157.5L765.4 159.3L765.6 160.9L765.7 151.9L765.9 152.5L766.1 159.8L766.3 156.7L766.5 157.6L766.6 171.0L766.8 143.3L767.0 167.1L767.2 153.7L767.4 156.5L767.6 156.9L767.7 146.8L767.9 157.7L768.1 158.7L768.3 153.8L768.5 156.9L768.6 153.7L768.8 160.0L769.0 157.6L769.2 156.9L769.4 152.7L769.5 157.3L769.7 155.4L769.9 148.3L770.1 150.3L770.3 158.6L770.4 150.3L770.6 150.9L770.8 156.0L771.0 153.5L771.2 161.5L771.3 156.8L771.5 147.1L771.7 154.9L771.9 156.7L772.1 152.7L772.2 154.1L772.4 159.0L772.6 177.6L772.8 157.4L773.0 156.5L773.1 164.1L773.3 149.7L773.5 165.1L773.7 158.9L773.9 154.6L774.0 159.2L774.2 137.8L774.4 156.8L774.6 140.5L774.8 156.1L775.0 155.7L775.1 147.1L775.3 148.1L775.5 152.9L775.7 150.1L775.9 153.8L776.0 153.9L776.2 152.3L776.4 149.5L776.6 169.3L776.8 152.9L776.9 161.4L777.1 150.8L777.3 154.2L777.5 145.3L777.7 159.8L777.8 151.9L778.0 160.1L778.2 150.2L778.4 147.9L778.6 155.7L778.7 155.5L778.9 146.8L779.1 152.7L779.3 151.3L779.5 159.5L779.6 152.1L779.8 154.9L780.0 153.8L780.2 152.4L780.4 153.9L780.5 155.2L780.7 149.9L780.9 164.2L781.1 157.6L781.3 156.5L781.4 153.8L781.6 158.8L781.8 155.6L782.0 149.1L782.2 155.6L782.4 156.9L782.5 158.9L782.7 154.7L782.9 155.4L783.1 153.9L783.3 150.9L783.4 154.4L783.6 150.9L783.8 144.6L784.0 154.1L784.2 158.3L784.3 157.6L784.5 155.8L784.7 150.5L784.9 139.5L785.1 156.2L785.2 151.8L785.4 153.0L785.6 149.6L785.8 153.6L786.0 155.5L786.1 155.3L786.3 151.7L786.5 155.1L786.7 148.9L786.9 153.0L787.0 149.8L787.2 152.6L787.4 148.9L787.6 148.7L787.8 156.4L787.9 151.5L788.1 147.9L788.3 161.1L788.5 159.5L788.7 144.9L788.8 159.1L789.0 159.8L789.2 145.7L789.4 151.9L789.6 158.6L789.8 159.7L789.9 158.6L790.1 145.3L790.3 151.1L790.5 151.1L790.7 152.2L790.8 143.5L791.0 147.6L791.2 162.1L791.4 159.3L791.6 160.2L791.7 144.3L791.9 153.5L792.1 153.3L792.3 162.6L792.5 161.5L792.6 156.4L792.8 158.8L793.0 153.8L793.2 152.4L793.4 154.6L793.5 151.7L793.7 154.2L793.9 156.3L794.1 155.1L794.3 151.7L794.4 149.2L794.6 156.1L794.8 153.8L795.0 160.1L795.2 146.2L795.3 152.3L795.5 157.2L795.7 158.0L795.9 162.6L796.1 159.8L796.3 156.8L796.4 156.7L796.6 154.9L796.8 190.2L797.0 154.1L797.2 160.7L797.3 153.3L797.5 149.0L797.7 152.2L797.9 157.0L798.1 155.3L798.2 150.7L798.4 151.1L798.6 163.8L798.8 151.7L799.0 149.3L799.1 159.2L799.3 148.4L799.5 141.1L799.7 151.0L799.9 153.5L800.0 150.9L800.2 156.7L800.4 149.0L800.6 144.8L800.8 160.4L800.9 152.6L801.1 154.8L801.3 155.3L801.5 156.5L801.7 160.3L801.8 153.0L802.0 160.8L802.2 140.3L802.4 149.2L802.6 148.5L802.7 147.1L802.9 149.2L803.1 150.0L803.3 157.5L803.5 150.3L803.7 155.2L803.8 126.2L804.0 152.5L804.2 153.6L804.4 166.4L804.6 157.0L804.7 159.8L804.9 162.1L805.1 156.6L805.3 161.0L805.5 149.7L805.6 161.4L805.8 148.6L806.0 153.6L806.2 154.5L806.4 154.9L806.5 141.9L806.7 153.0L806.9 150.2L807.1 152.0L807.3 157.6L807.4 148.4L807.6 154.3L807.8 154.5L808.0 160.9L808.2 154.9L808.3 159.9L808.5 160.2L808.7 159.1L808.9 150.9L809.1 157.4L809.2 148.5L809.4 156.6L809.6 161.1L809.8 153.4L810.0 154.1L810.1 152.2L810.3 159.6L810.5 155.3L810.7 150.9L810.9 147.6L811.1 150.3L811.2 168.6L811.4 160.3L811.6 151.5L811.8 151.5L812.0 162.7L812.1 144.1L812.3 148.2L812.5 150.6L812.7 162.5L812.9 151.9L813.0 148.0L813.2 145.5L813.4 153.9L813.6 147.4L813.8 154.0L813.9 150.9L814.1 153.1L814.3 156.5L814.5 150.4L814.7 162.4L814.8 163.6L815.0 152.3L815.2 160.0L815.4 152.4L815.6 161.9L815.7 149.7L815.9 151.3L816.1 150.9L816.3 145.2L816.5 157.5L816.6 157.4L816.8 157.8L817.0 151.4L817.2 154.5L817.4 155.3L817.5 161.4L817.7 152.8L817.9 151.4L818.1 162.1L818.3 155.1L818.5 155.5L818.6 153.8L818.8 153.7L819.0 180.9L819.2 147.8L819.4 151.0L819.5 154.3L819.7 159.8L819.9 156.5L820.1 159.0L820.3 152.2L820.4 151.6L820.6 161.1L820.8 154.9L821.0 154.5L821.2 154.7L821.3 151.4L821.5 158.5L821.7 157.1L821.9 156.9L822.1 147.8L822.2 154.7L822.4 160.3L822.6 155.9L822.8 159.6L823.0 157.4L823.1 142.2L823.3 158.3L823.5 160.6L823.7 155.8L823.9 156.1L824.0 143.7L824.2 151.8L824.4 162.3L824.6 151.0L824.8 161.1L824.9 152.9L825.1 151.1L825.3 152.8L825.5 159.2L825.7 156.4L825.9 155.6L826.0 156.6L826.2 150.7L826.4 149.5L826.6 119.6L826.8 163.0L826.9 149.5L827.1 157.3L827.3 158.1L827.5 142.1L827.7 151.2L827.8 159.6L828.0 157.4L828.2 149.4L828.4 157.6L828.6 148.7L828.7 161.5L828.9 157.4L829.1 155.3L829.3 163.7L829.5 150.2L829.6 143.5L829.8 143.9L830.0 160.0L830.2 155.4L830.4 154.2L830.5 171.0L830.7 161.3L830.9 151.1L831.1 152.1L831.3 160.9L831.4 167.3L831.6 163.7L831.8 155.6L832.0 156.1L832.2 141.2L832.4 144.6L832.5 155.2L832.7 152.3L832.9 164.6L833.1 157.9L833.3 152.7L833.4 156.8L833.6 157.5L833.8 161.9L834.0 147.1L834.2 148.5L834.3 156.8L834.5 158.5L834.7 154.0L834.9 148.3L835.1 148.9L835.2 158.7L835.4 159.5L835.6 154.7L835.8 153.7L836.0 151.9L836.1 154.6L836.3 163.7L836.5 153.8L836.7 153.4L836.9 145.9L837.0 149.4L837.2 153.5L837.4 152.8L837.6 153.9L837.8 148.3L837.9 151.3L838.1 153.2L838.3 148.3L838.5 152.9L838.7 159.1L838.8 147.4L839.0 143.5L839.2 153.8L839.4 151.6L839.6 152.7L839.8 150.1L839.9 153.2L840.1 150.6L840.3 144.1L840.5 154.7L840.7 152.2L840.8 167.1L841.0 151.9L841.2 146.7L841.4 146.7L841.6 200.1L841.7 145.9L841.9 148.8L842.1 148.1L842.3 154.8L842.5 163.1L842.6 162.3L842.8 151.1L843.0 158.0L843.2 143.4L843.4 145.6L843.5 146.5L843.7 152.8L843.9 157.3L844.1 148.5L844.3 157.7L844.4 162.0L844.6 152.4L844.8 162.0L845.0 156.3L845.2 153.3L845.3 158.2L845.5 148.6L845.7 143.7L845.9 154.3L846.1 152.4L846.2 157.8L846.4 153.6L846.6 151.6L846.8 158.8L847.0 155.3L847.2 148.7L847.3 153.8L847.5 157.7L847.7 153.4L847.9 156.6L848.1 156.2L848.2 152.5L848.4 158.4L848.6 147.2L848.8 198.5L849.0 152.7L849.1 160.4L849.3 147.6L849.5 140.9L849.7 154.5L849.9 148.6L850.0 149.6L850.2 160.3L850.4 141.2L850.6 157.4L850.8 73.9L850.9 157.4L851.1 234.9L851.3 158.2L851.5 161.9L851.7 153.2L851.8 154.7L852.0 158.4L852.2 156.0L852.4 156.0L852.6 160.8L852.7 147.8L852.9 165.0L853.1 136.2L853.3 154.0L853.5 161.2L853.6 142.9L853.8 156.1L854.0 140.3L854.2 155.3L854.4 149.7L854.6 152.5L854.7 161.7L854.9 156.9L855.1 150.3L855.3 150.2L855.5 165.5L855.6 144.5L855.8 159.5L856.0 141.8L856.2 157.0L856.4 153.5L856.5 165.5L856.7 144.8L856.9 149.3L857.1 159.2L857.3 160.0L857.4 154.3L857.6 159.2L857.8 154.4L858.0 157.9L858.2 157.9L858.3 155.1L858.5 154.3L858.7 155.7L858.9 160.5L859.1 146.6L859.2 150.7L859.4 157.7L859.6 161.1L859.8 158.1L860.0 145.0L860.1 158.8L860.3 165.9L860.5 154.8L860.7 160.9L860.9 157.2L861.0 150.8L861.2 164.9L861.4 149.3L861.6 151.3L861.8 163.7L862.0 154.6L862.1 172.6L862.3 151.0L862.5 152.3L862.7 163.3L862.9 154.4L863.0 160.1L863.2 154.9L863.4 163.3L863.6 146.6L863.8 132.9L863.9 158.1L864.1 203.1L864.3 159.4L864.5 145.9L864.7 148.8L864.8 166.7L865.0 146.3L865.2 154.8L865.4 154.0L865.6 154.9L865.7 157.9L865.9 151.5L866.1 152.0L866.3 158.0L866.5 148.2L866.6 151.8L866.8 144.2L867.0 152.7L867.2 156.3L867.4 153.6L867.5 159.3L867.7 157.4L867.9 143.6L868.1 149.8L868.3 167.7L868.4 148.9L868.6 151.8L868.8 158.0L869.0 162.3L869.2 152.4L869.4 172.6L869.5 155.1L869.7 161.1L869.9 155.5L870.1 160.5L870.3 156.9L870.4 145.7L870.6 157.5L870.8 149.8L871.0 153.4L871.2 155.5L871.3 160.3L871.5 151.5L871.7 149.5L871.9 152.0L872.1 135.5L872.2 160.3L872.4 152.0L872.6 152.5L872.8 142.2L873.0 155.2L873.1 153.2L873.3 157.1L873.5 158.3L873.7 154.8L873.9 147.1L874.0 159.3L874.2 162.9L874.4 150.1L874.6 152.7L874.8 140.4L874.9 149.4L875.1 144.2L875.3 159.3L875.5 163.4L875.7 163.4L875.9 153.3L876.0 150.2L876.2 148.1L876.4 149.6L876.6 153.3L876.8 156.3L876.9 158.0L877.1 150.9L877.3 179.9L877.5 155.1L877.7 157.0L877.8 156.4L878.0 154.2L878.2 152.2L878.4 153.5L878.6 159.2L878.7 168.3L878.9 163.1L879.1 157.9L879.3 153.5L879.5 145.5L879.6 158.7L879.8 153.7L880.0 153.4L880.2 143.7L880.4 156.3L880.5 150.1L880.7 147.4L880.9 73.9L881.1 163.1L881.3 162.7L881.4 168.4L881.6 144.6L881.8 151.0L882.0 153.8L882.2 151.0L882.3 163.1L882.5 152.1L882.7 145.9L882.9 162.0L883.1 155.6L883.3 163.4L883.4 157.1L883.6 151.6L883.8 164.6L884.0 168.8L884.2 152.5L884.3 153.5L884.5 159.6L884.7 155.1L884.9 160.6L885.1 162.8L885.2 166.7L885.4 142.4L885.6 152.1L885.8 150.8L886.0 158.1L886.1 156.2L886.3 160.5L886.5 156.1L886.7 151.2L886.9 165.2L887.0 140.9L887.2 155.0L887.4 154.0L887.6 146.4L887.8 161.5L887.9 136.8L888.1 164.4L888.3 147.5L888.5 149.1L888.7 158.5L888.8 150.1L889.0 161.3L889.2 155.8L889.4 163.3L889.6 151.4L889.7 155.1L889.9 153.5L890.1 155.2L890.3 150.0L890.5 154.8L890.7 158.9L890.8 165.6L891.0 154.6L891.2 152.8L891.4 155.6L891.6 159.9L891.7 155.3L891.9 152.3L892.1 155.8L892.3 153.0L892.5 149.1L892.6 155.5L892.8 153.8L893.0 153.0L893.2 155.9L893.4 158.1L893.5 151.5L893.7 156.9L893.9 158.0L894.1 151.8L894.3 168.6L894.4 150.1L894.6 143.3L894.8 161.5L895.0 158.7L895.2 141.5L895.3 145.4L895.5 160.9L895.7 157.5L895.9 152.7L896.1 159.1L896.2 149.2L896.4 154.5L896.6 150.3L896.8 154.4L897.0 146.6L897.1 154.2L897.3 157.6L897.5 157.6L897.7 151.7L897.9 112.3L898.1 155.5L898.2 153.3L898.4 150.3L898.6 150.8L898.8 150.2L899.0 150.6L899.1 158.7L899.3 153.6L899.5 166.1L899.7 150.4L899.9 153.1L900.0 146.3L900.2 144.8L900.4 149.5L900.6 156.3L900.8 152.5L900.9 156.8L901.1 150.2L901.3 158.5L901.5 158.2L901.7 153.4L901.8 155.9L902.0 152.8L902.2 154.2L902.4 153.9L902.6 153.3L902.7 159.5L902.9 155.7L903.1 156.8L903.3 157.7L903.5 155.3L903.6 168.3L903.8 152.4L904.0 149.9L904.2 146.8L904.4 152.1L904.5 151.6L904.7 166.5L904.9 161.4L905.1 169.3L905.3 153.4L905.5 168.6L905.6 155.5L905.8 157.4L906.0 157.3L906.2 148.1L906.4 154.5L906.5 157.1L906.7 149.1L906.9 153.6L907.1 154.4L907.3 154.6L907.4 162.7L907.6 152.1L907.8 154.3L908.0 151.1L908.2 149.2L908.3 148.3L908.5 149.9L908.7 152.8L908.9 161.0L909.1 104.1L909.2 163.8L909.4 145.1L909.6 156.5L909.8 153.7L910.0 153.9L910.1 143.6L910.3 156.8L910.5 148.7L910.7 162.6L910.9 151.5L911.0 151.8L911.2 167.0L911.4 153.6L911.6 152.2L911.8 150.6L911.9 145.9L912.1 159.5L912.3 142.4L912.5 155.1L912.7 164.9L912.9 154.2L913.0 155.5L913.2 157.2L913.4 147.7L913.6 156.3L913.8 151.9L913.9 155.2L914.1 152.2L914.3 156.2L914.5 158.0L914.7 160.3L914.8 153.3L915.0 151.4L915.2 160.7L915.4 152.2L915.6 158.6L915.7 157.2L915.9 163.5L916.1 141.4L916.3 153.0L916.5 140.0L916.6 158.0L916.8 163.6L917.0 164.7L917.2 153.7L917.4 161.9L917.5 168.2L917.7 158.9L917.9 156.0L918.1 155.4L918.3 160.6L918.4 137.2L918.6 148.6L918.8 155.1L919.0 142.4L919.2 147.0L919.4 147.9L919.5 157.2L919.7 150.0L919.9 153.6L920.1 152.0L920.3 153.1L920.4 155.7L920.6 158.1L920.8 157.6L921.0 149.8L921.2 156.0L921.3 155.1L921.5 160.3L921.7 149.4L921.9 153.8L922.1 151.5L922.2 146.7L922.4 154.2L922.6 152.2L922.8 152.2L923.0 151.8L923.1 157.1L923.3 157.5L923.5 169.6L923.7 156.3L923.9 153.7L924.0 150.1L924.2 159.8L924.4 156.6L924.6 191.8L924.8 153.5L924.9 148.2L925.1 148.1L925.3 104.1L925.5 154.7L925.7 155.7L925.8 150.2L926.0 153.1L926.2 151.5L926.4 150.3L926.6 104.1L926.8 155.7L926.9 160.3L927.1 150.2L927.3 152.5L927.5 156.2L927.7 157.5L927.8 156.4L928.0 162.5L928.2 144.4L928.4 159.4L928.6 152.9L928.7 143.5L928.9 151.9L929.1 160.0L929.3 128.9L929.5 154.5L929.6 161.4L929.8 155.9L930.0 152.5L930.2 156.1L930.4 147.8L930.5 152.3L930.7 152.5L930.9 158.0L931.1 159.8L931.3 151.8L931.4 151.3L931.6 155.1L931.8 143.5L932.0 163.4L932.2 158.8L932.3 157.8L932.5 154.8L932.7 157.9L932.9 143.9L933.1 154.4L933.2 147.3L933.4 143.6L933.6 139.8L933.8 154.8L934.0 163.0L934.2 146.4L934.3 153.4L934.5 167.2L934.7 162.9L934.9 171.0L935.1 150.9L935.2 156.2L935.4 152.8L935.6 160.5L935.8 150.7L936.0 154.1L936.1 143.3L936.3 155.7L936.5 162.8L936.7 157.2L936.9 158.6L937.0 158.9L937.2 160.7L937.4 145.5L937.6 145.9L937.8 144.2L937.9 155.5L938.1 156.0L938.3 159.5L938.5 153.1L938.7 151.8L938.8 157.4L939.0 147.2L939.2 151.5L939.4 150.3L939.6 154.7L939.7 158.6L939.9 149.6L940.1 169.0L940.3 149.0L940.5 158.8L940.6 159.2L940.8 142.9L941.0 164.4L941.2 160.6L941.4 165.5L941.6 137.8L941.7 146.9L941.9 155.9L942.1 161.7L942.3 161.9L942.5 159.3L942.6 146.1L942.8 149.0L943.0 158.1L943.2 149.9L943.4 151.2L943.5 137.7L943.7 149.9L943.9 153.6L944.1 151.6L944.3 152.8L944.4 150.4L944.6 149.0L944.8 147.5L945.0 153.9L945.2 156.7L945.3 154.1L945.5 161.6L945.7 154.3L945.9 145.3L946.1 161.3L946.2 148.3L946.4 157.3L946.6 152.7L946.8 159.8L947.0 155.4L947.1 149.0L947.3 154.0L947.5 154.2L947.7 154.5L947.9 158.4L948.0 147.2L948.2 152.1L948.4 146.9L948.6 156.7L948.8 163.7L949.0 152.7L949.1 155.4L949.3 152.5L949.5 153.3L949.7 150.3L949.9 149.3L950.0 159.8L950.2 153.0L950.4 150.1L950.6 156.0L950.8 150.1L950.9 152.1L951.1 148.2L951.3 162.8L951.5 153.4L951.7 146.2L951.8 157.5L952.0 149.3L952.2 150.8L952.4 155.9L952.6 160.1L952.7 151.6L952.9 146.7L953.1 148.1L953.3 163.3L953.5 148.5L953.6 157.8L953.8 163.9L954.0 157.8L954.2 150.6L954.4 149.4L954.5 157.3L954.7 138.8L954.9 156.0L955.1 149.0L955.3 145.8L955.4 156.2L955.6 151.0L955.8 152.0L956.0 156.4L956.2 157.0L956.4 157.5L956.5 159.2L956.7 156.9L956.9 151.9L957.1 157.3L957.3 155.2L957.4 149.2L957.6 149.9L957.8 148.5L958.0 152.1L958.2 151.9L958.3 153.5L958.5 147.1L958.7 159.1L958.9 143.7L959.1 149.3L959.2 140.6L959.4 144.5L959.6 150.1L959.8 154.9L960.0 140.6L960.1 152.6L960.3 151.5L960.5 149.7L960.7 146.2L960.9 156.1L961.0 152.5L961.2 141.0L961.4 156.7L961.6 153.5L961.8 152.3L961.9 149.7L962.1 151.1L962.3 161.4L962.5 151.7L962.7 150.3L962.9 158.4L963.0 146.7L963.2 156.6L963.4 155.3L963.6 154.6L963.8 154.9L963.9 154.9L964.1 154.5L964.3 157.1L964.5 159.1L964.7 144.7L964.8 157.0L965.0 156.1L965.2 150.9L965.4 164.3L965.6 145.7L965.7 155.0L965.9 155.1L966.1 146.6L966.3 159.1L966.5 154.2L966.6 145.7L966.8 158.6L967.0 165.7L967.2 160.1L967.4 152.3L967.5 151.4L967.7 152.2L967.9 161.7L968.1 151.8L968.3 155.8L968.4 156.2L968.6 153.0L968.8 147.7L969.0 144.5L969.2 160.0L969.3 162.3L969.5 158.3L969.7 174.3L969.9 157.5L970.1 154.0L970.3 155.4L970.4 156.3L970.6 154.7L970.8 157.7L971.0 154.4L971.2 143.3L971.3 144.3L971.5 143.3L971.7 161.2L971.9 155.1L972.1 159.4L972.2 148.0L972.4 147.0L972.6 159.4L972.8 154.5L973.0 163.9L973.1 153.0L973.3 152.4L973.5 142.9L973.7 153.5L973.9 162.1L974.0 153.8L974.2 152.2L974.4 160.8L974.6 162.5L974.8 152.6L974.9 150.9L975.1 148.8L975.3 153.3L975.5 152.4L975.7 155.0L975.8 150.3L976.0 156.7L976.2 162.3L976.4 146.0L976.6 164.8L976.7 160.4L976.9 154.9L977.1 153.5L977.3 155.9L977.5 148.2L977.7 156.2L977.8 158.5L978.0 163.2L978.2 156.9L978.4 156.6L978.6 153.8L978.7 157.1L978.9 155.4L979.1 151.3L979.3 159.7L979.5 148.3L979.6 155.1L979.8 150.4L980.0 153.2L980.2 155.0L980.4 154.7L980.5 160.1L980.7 153.9L980.9 152.6L981.1 152.3L981.3 155.5L981.4 158.1L981.6 147.2L981.8 149.1L982.0 152.1L982.2 131.2L982.3 157.0L982.5 158.6L982.7 150.8L982.9 154.7L983.1 155.0L983.2 157.8L983.4 154.5L983.6 153.0L983.8 158.6L984.0 157.0L984.1 157.5L984.3 156.0L984.5 153.6L984.7 154.4L984.9 158.3L985.1 154.4L985.2 152.3L985.4 158.9L985.6 147.1L985.8 151.7L986.0 159.3L986.1 159.1L986.3 156.4L986.5 155.6L986.7 152.6L986.9 156.7L987.0 154.4L987.2 150.4L987.4 145.2L987.6 160.4L987.8 220.0L987.9 153.5L988.1 144.7L988.3 146.3L988.5 156.2L988.7 151.7L988.8 158.7L989.0 154.8L989.2 156.2L989.4 151.2L989.6 136.2L989.7 148.4L989.9 150.8L990.1 155.2L990.3 147.6L990.5 156.4L990.6 162.8L990.8 168.3L991.0 158.3L991.2 159.9L991.4 157.3L991.5 159.6L991.7 146.1L991.9 158.2L992.1 157.1L992.3 154.2L992.5 160.9L992.6 153.7L992.8 158.7L993.0 161.4L993.2 158.5L993.4 159.8L993.5 140.9L993.7 155.5L993.9 156.6L994.1 168.6L994.3 146.6L994.4 162.6L994.6 155.0L994.8 155.0L995.0 151.3L995.2 168.4L995.3 165.2L995.5 168.1L995.7 155.0L995.9 157.5L996.1 151.5L996.2 155.2L996.4 150.4L996.6 155.7L996.8 156.5L997.0 153.8L997.1 160.0L997.3 154.4L997.5 146.4L997.7 155.4L997.9 151.3L998.0 161.5L998.2 160.5L998.4 152.6L998.6 154.2L998.8 165.4L998.9 152.4L999.1 164.1L999.3 157.9L999.5 159.5L999.7 151.0L999.9 142.6L1000.0 155.6L1000.2 152.7L1000.4 158.8L1000.6 154.2L1000.8 156.7L1000.9 163.7L1001.1 158.8L1001.3 152.8L1001.5 153.4L1001.7 152.1L1001.8 152.1L1002.0 157.7L1002.2 153.3L1002.4 156.0L1002.6 153.0L1002.7 159.0L1002.9 144.9L1003.1 163.5L1003.3 150.4L1003.5 154.1L1003.6 160.5L1003.8 154.0L1004.0 153.3L1004.2 155.7L1004.4 148.6L1004.5 158.3L1004.7 155.6L1004.9 152.1L1005.1 163.7L1005.3 161.4L1005.4 158.2L1005.6 145.3L1005.8 133.5L1006.0 135.8L1006.2 154.0L1006.4 149.5L1006.5 153.6L1006.7 164.0L1006.9 157.0L1007.1 152.2L1007.3 151.3L1007.4 159.4L1007.6 151.6L1007.8 131.2L1008.0 152.5L1008.2 154.6L1008.3 152.4L1008.5 154.5L1008.7 203.1L1008.9 156.5L1009.1 161.1L1009.2 161.2L1009.4 154.9L1009.6 151.6L1009.8 143.2L1010.0 160.0L1010.1 159.4L1010.3 149.2L1010.5 156.0L1010.7 159.5L1010.9 150.7L1011.0 160.1L1011.2 159.4L1011.4 148.7L1011.6 158.7L1011.8 161.5L1011.9 152.4L1012.1 162.5L1012.3 154.7L1012.5 156.3L1012.7 159.1L1012.8 164.8L1013.0 149.6L1013.2 156.7L1013.4 160.6L1013.6 158.4L1013.8 157.9L1013.9 158.8L1014.1 155.9L1014.3 128.9L1014.5 149.1L1014.7 165.4L1014.8 164.3L1015.0 169.3L1015.2 154.3L1015.4 163.7L1015.6 148.3L1015.7 167.1L1015.9 132.5L1016.1 149.8L1016.3 156.6L1016.5 135.9L1016.6 156.2L1016.8 154.7L1017.0 147.4L1017.2 167.4L1017.4 135.0L1017.5 139.2L1017.7 152.0L1017.9 157.9L1018.1 157.9L1018.3 158.4L1018.4 133.4L1018.6 144.2L1018.8 155.2L1019.0 138.9L1019.2 162.3L1019.3 136.3L1019.5 171.9L1019.7 169.3L1019.9 174.1L1020.1 150.0L1020.2 145.5L1020.4 157.0L1020.6 154.3L1020.8 136.8L1021.0 148.7L1021.2 157.2L1021.3 154.5L1021.5 146.8L1021.7 160.6L1021.9 195.8L1022.1 158.2L1022.2 155.1L1022.4 165.9L1022.6 155.0L1022.8 161.7L1023.0 145.0L1023.1 159.4L1023.3 160.1L1023.5 152.0L1023.7 147.7L1023.9 139.8L1024.0 163.3L1024.2 123.6L1024.4 158.6L1024.6 139.5L1024.8 151.2L1024.9 162.2L1025.1 153.2L1025.3 151.2L1025.5 151.2L1025.7 150.1L1025.8 151.6L1026.0 150.6L1026.2 144.8L1026.4 154.9L1026.6 153.7L1026.7 152.1L1026.9 160.8L1027.1 156.0L1027.3 155.5L1027.5 161.1L1027.6 127.9L1027.8 146.9L1028.0 156.4L1028.2 154.8L1028.4 157.6L1028.6 149.7L1028.7 152.9L1028.9 147.8L1029.1 150.5L1029.3 160.8L1029.5 152.9L1029.6 148.0L1029.8 151.4L1030.0 146.4L1030.2 148.0L1030.4 152.4L1030.5 170.4L1030.7 144.7L1030.9 136.9L1031.1 145.8L1031.3 167.3L1031.4 149.2L1031.6 150.9L1031.8 147.1L1032.0 160.0L1032.2 163.3L1032.3 154.2L1032.5 144.7L1032.7 149.1L1032.9 138.3L1033.1 153.1L1033.2 160.5L1033.4 153.3L1033.6 155.6L1033.8 162.3L1034.0 155.8L1034.1 156.5L1034.3 163.1L1034.5 160.5L1034.7 142.4L1034.9 166.7L1035.0 158.1L1035.2 147.7L1035.4 157.5L1035.6 151.3L1035.8 157.6L1036.0 152.7L1036.1 147.8L1036.3 155.9L1036.5 148.4L1036.7 155.7L1036.9 148.9L1037.0 153.3L1037.2 153.5L1037.4 152.8L1037.6 149.0L1037.8 150.8L1037.9 149.2L1038.1 151.4L1038.3 156.9L1038.5 148.8L1038.7 153.3L1038.8 167.5L1039.0 151.8L1039.2 155.9L1039.4 148.5L1039.6 153.8L1039.7 151.0L1039.9 154.1L1040.1 151.1L1040.3 152.3L1040.5 151.7L1040.6 160.3L1040.8 185.9L1041.0 156.1L1041.2 158.2L1041.4 148.8L1041.5 158.2L1041.7 168.9L1041.9 163.3L1042.1 150.1L1042.3 144.1L1042.5 157.1L1042.6 146.4L1042.8 150.6L1043.0 166.2L1043.2 167.0L1043.4 160.1L1043.5 148.8L1043.7 138.2L1043.9 156.4L1044.1 121.3L1044.3 140.3L1044.4 143.3L1044.6 154.7L1044.8 140.9L1045.0 147.1L1045.2 158.3L1045.3 157.9L1045.5 145.0L1045.7 170.8L1045.9 150.0L1046.1 144.1L1046.2 166.9L1046.4 142.0L1046.6 166.6L1046.8 146.0L1047.0 163.7L1047.1 175.7L1047.3 149.8L1047.5 160.4L1047.7 152.2L1047.9 156.7L1048.0 156.0L1048.2 151.0L1048.4 151.2L1048.6 159.4L1048.8 157.0L1048.9 155.6L1049.1 151.0L1049.3 149.3L1049.5 158.2L1049.7 147.7L1049.9 153.8L1050.0 155.4L1050.2 153.7L1050.4 135.1L1050.6 154.4L1050.8 151.0L1050.9 154.0L1051.1 160.2L1051.3 154.6L1051.5 170.5L1051.7 138.0L1051.8 153.6L1052.0 150.3L1052.2 165.3L1052.4 149.2L1052.6 146.8L1052.7 150.2L1052.9 143.5L1053.1 161.5L1053.3 161.8L1053.5 160.6L1053.6 157.2L1053.8 149.1L1054.0 150.4L1054.2 161.6L1054.4 153.4L1054.5 161.0L1054.7 155.7L1054.9 151.8L1055.1 154.4L1055.3 145.3L1055.4 149.9L1055.6 149.2L1055.8 179.2L1056.0 154.6L1056.2 147.0L1056.3 146.4L1056.5 133.5L1056.7 150.5L1056.9 175.5L1057.1 170.6L1057.3 153.6L1057.4 164.2L1057.6 134.8L1057.8 155.8L1058.0 150.6L1058.2 140.2L1058.3 143.4L1058.5 149.0L1058.7 154.1L1058.9 148.0L1059.1 136.2L1059.2 156.7L1059.4 153.0L1059.6 156.8L1059.8 156.1L1060.0 137.5L1060.1 155.3L1060.3 156.8L1060.5 158.4L1060.7 158.9L1060.9 160.2L1061.0 149.0L1061.2 160.3L1061.4 144.2L1061.6 144.0L1061.8 165.9L1061.9 166.1L1062.1 151.5L1062.3 162.2L1062.5 162.0L1062.7 166.0L1062.8 160.7L1063.0 147.2L1063.2 148.9L1063.4 153.4L1063.6 156.6L1063.7 152.6L1063.9 157.3L1064.1 156.7L1064.3 152.7L1064.5 164.0L1064.7 199.1L1064.8 152.1L1065.0 157.5L1065.2 150.6L1065.4 154.0L1065.6 149.6L1065.7 134.5L1065.9 152.9L1066.1 155.3L1066.3 151.7L1066.5 151.4L1066.6 148.2L1066.8 148.4L1067.0 150.6L1067.2 146.4L1067.4 160.3L1067.5 148.5L1067.7 161.1L1067.9 153.5L1068.1 161.2L1068.3 158.8L1068.4 146.5L1068.6 157.4L1068.8 161.1L1069.0 155.1L1069.2 150.9L1069.3 173.6L1069.5 160.2L1069.7 171.2L1069.9 153.5L1070.1 164.5L1070.2 152.7L1070.4 167.6L1070.6 195.8L1070.8 147.7L1071.0 136.8L1071.1 145.7L1071.3 146.8L1071.5 148.1L1071.7 166.2L1071.9 158.1L1072.1 148.9L1072.2 152.2L1072.4 165.2L1072.6 160.0L1072.8 149.6L1073.0 152.7L1073.1 146.8L1073.3 161.0L1073.5 162.3L1073.7 158.9L1073.9 149.1L1074.0 160.8L1074.2 172.8L1074.4 154.7L1074.6 142.2L1074.8 155.2L1074.9 146.4L1075.1 161.0L1075.3 156.0L1075.5 163.3L1075.7 155.3L1075.8 170.2L1076.0 149.6L1076.2 172.3L1076.4 176.1L1076.6 150.3L1076.7 150.0L1076.9 162.9L1077.1 162.2L1077.3 149.7L1077.5 134.3L1077.6 170.0L1077.8 145.3L1078.0 209.1L1078.2 147.3L1078.4 151.2L1078.5 147.8L1078.7 155.2L1078.9 147.2L1079.1 140.9L1079.3 158.9L1079.5 152.3L1079.6 171.7L1079.8 148.5L1080.0 150.9L1080.2 150.9L1080.4 171.7L1080.5 164.2L1080.7 147.8L1080.9 143.1L1081.1 149.5L1081.3 140.9L1081.4 168.1L1081.6 166.0L1081.8 161.7L1082.0 156.7L1082.2 154.3L1082.3 146.5L1082.5 152.7L1082.7 150.2L1082.9 156.0L1083.1 161.2L1083.2 158.7L1083.4 160.6L1083.6 143.5L1083.8 156.3L1084.0 149.1L1084.1 150.5L1084.3 146.4L1084.5 151.9L1084.7 167.2L1084.9 156.4L1085.0 161.1L1085.2 153.8L1085.4 165.1L1085.6 176.6L1085.8 144.5L1086.0 152.6L1086.1 156.7L1086.3 149.4L1086.5 153.9L1086.7 154.0L1086.9 161.5L1087.0 155.0L1087.2 146.2L1087.4 163.0L1087.6 151.3L1087.8 161.9L1087.9 156.2L1088.1 156.4L1088.3 149.7L1088.5 155.4L1088.7 161.8L1088.8 141.7L1089.0 147.3L1089.2 149.5L1089.4 134.3L1089.6 172.5L1089.7 159.4L1089.9 168.4L1090.1 152.7L1090.3 155.0L1090.5 127.2L1090.6 133.7L1090.8 145.4L1091.0 150.4L1091.2 157.5L1091.4 156.6L1091.5 152.1L1091.7 160.6L1091.9 157.8L1092.1 153.0L1092.3 164.6L1092.4 152.4L1092.6 162.4L1092.8 145.7L1093.0 144.6L1093.2 157.6L1093.4 164.2L1093.5 164.1L1093.7 141.4L1093.9 164.7L1094.1 164.9L1094.3 155.5L1094.4 158.4L1094.6 144.4L1094.8 140.8L1095.0 138.6L1095.2 143.5L1095.3 139.9L1095.5 131.2L1095.7 157.8L1095.9 167.2L1096.1 135.5L1096.2 174.5L1096.4 160.4L1096.6 152.3L1096.8 168.9L1097.0 150.6L1097.1 175.3L1097.3 160.0L1097.5 154.5L1097.7 158.1L1097.9 150.1L1098.0 167.3L1098.2 157.1L1098.4 155.9L1098.6 143.1L1098.8 168.4L1098.9 164.4L1099.1 158.6L1099.3 170.7L1099.5 169.4L1099.7 154.9L1099.8 152.3L1100.0 149.7L1100.2 153.2L1100.4 153.2L1100.6 149.5L1100.8 158.7L1100.9 156.9L1101.1 137.2L1101.3 154.3L1101.5 136.4L1101.7 140.6L1101.8 149.5L1102.0 161.4L1102.2 154.1L1102.4 137.4L1102.6 135.9L1102.7 153.6L1102.9 140.8L1103.1 143.1L1103.3 163.9L1103.5 154.0L1103.6 152.3L1103.8 137.8L1104.0 144.5L1104.2 159.9L1104.4 156.6L1104.5 171.0L1104.7 151.1L1104.9 142.4L1105.1 150.0L1105.3 146.6L1105.4 149.6L1105.6 155.2L1105.8 157.2L1106.0 170.6L1106.2 155.2L1106.3 159.2L1106.5 160.8L1106.7 154.2L1106.9 161.5L1107.1 159.5L1107.2 151.8L1107.4 158.9L1107.6 150.9L1107.8 153.7L1108.0 154.0L1108.2 161.3L1108.3 154.4L1108.5 152.9L1108.7 156.7L1108.9 136.9L1109.1 141.2L1109.2 165.2L1109.4 159.6L1109.6 169.7L1109.8 152.8L1110.0 138.5L1110.1 145.4L1110.3 146.6L1110.5 152.8L1110.7 154.8L1110.9 157.0L1111.0 168.5L1111.2 152.1L1111.4 147.2L1111.6 149.2L1111.8 144.7L1111.9 159.2L1112.1 136.8L1112.3 147.2L1112.5 152.8L1112.7 188.2L1112.8 140.5L1113.0 157.0L1113.2 156.5L1113.4 161.6L1113.6 159.1L1113.7 158.3L1113.9 156.0L1114.1 148.0L1114.3 159.2L1114.5 156.4L1114.6 143.1L1114.8 151.0L1115.0 153.7L1115.2 152.4L1115.4 160.3L1115.6 150.0L1115.7 160.4L1115.9 150.0L1116.1 151.6L1116.3 156.1L1116.5 156.3L1116.6 158.3L1116.8 151.4L1117.0 162.3L1117.2 152.5L1117.4 159.6L1117.5 139.2L1117.7 157.6L1117.9 161.3L1118.1 151.6L1118.3 142.6L1118.4 154.5L1118.6 149.1L1118.8 151.6L1119.0 165.7L1119.2 159.8L1119.3 151.6L1119.5 149.7L1119.7 161.1L1119.9 158.5L1120.1 154.2L1120.2 178.6L1120.4 155.0L1120.6 140.4L1120.8 164.0L1121.0 142.5L1121.1 150.3L1121.3 167.0L1121.5 170.2L1121.7 134.6L1121.9 159.5L1122.0 147.6L1122.2 154.4L1122.4 146.6L1122.6 162.8L1122.8 155.1L1123.0 148.2L1123.1 142.2L1123.3 182.7L1123.5 157.2L1123.7 153.5L1123.9 156.7L1124.0 309.1L1124.2 149.1L1124.4 148.8L1124.6 143.3L1124.8 145.4L1124.9 113.0L1125.1 143.0L1125.3 149.6L1125.5 146.3L1125.7 157.6L1125.8 153.5L1126.0 157.6L1126.2 143.1L1126.4 167.6L1126.6 152.1L1126.7 164.3L1126.9 141.6L1127.1 145.4L1127.3 158.0L1127.5 155.3L1127.6 149.9L1127.8 148.2L1128.0 146.3L1128.2 156.5L1128.4 151.6L1128.5 121.3L1128.7 159.7L1128.9 154.9L1129.1 167.2L1129.3 164.5L1129.5 147.6L1129.6 157.7L1129.8 150.8L1130.0 150.3L1130.2 151.6L1130.4 155.2L1130.5 167.0L1130.7 158.9L1130.9 134.4L1131.1 141.7L1131.3 161.6L1131.4 167.9L1131.6 148.9L1131.8 156.0L1132.0 153.4L1132.2 153.8L1132.3 159.9L1132.5 154.7L1132.7 163.9L1132.9 138.7L1133.1 158.5L1133.2 155.7L1133.4 165.2L1133.6 144.1L1133.8 164.1L1134.0 150.6L1134.1 173.9L1134.3 169.9L1134.5 149.1L1134.7 161.9L1134.9 147.5L1135.0 168.5L1135.2 140.2L1135.4 152.2L1135.6 160.0L1135.8 134.1L1135.9 187.5L1136.1 171.2L1136.3 162.4L1136.5 160.7L1136.7 147.1L1136.9 126.2L1137.0 132.3L1137.2 150.8L1137.4 143.2L1137.6 135.9L1137.8 147.6L1137.9 174.8L1138.1 162.7L1138.3 164.1L1138.5 178.3L1138.7 151.5L1138.8 159.7L1139.0 159.2L1139.2 142.4L1139.4 170.4L1139.6 156.9L1139.7 136.9L1139.9 144.4L1140.1 154.1L1140.3 138.6L1140.5 140.9L1140.6 158.9L1140.8 136.4L1141.0 161.6L1141.2 176.2L1141.4 160.5L1141.5 143.8L1141.7 146.4L1141.9 136.1L1142.1 157.3L1142.3 156.0L1142.4 136.8L1142.6 123.8L1142.8 168.1L1143.0 156.5L1143.2 146.3L1143.3 157.5L1143.5 177.6L1143.7 136.7L1143.9 150.7L1144.1 156.6L1144.3 109.7L1144.4 150.9L1144.6 174.0L1144.8 149.3L1145.0 163.4L1145.2 137.5L1145.3 156.5L1145.5 165.8L1145.7 147.2L1145.9 153.0L1146.1 156.3L1146.2 140.1L1146.4 135.6L1146.6 166.5L1146.8 120.6L1147.0 140.6L1147.1 145.4L1147.3 179.9L1147.5 153.9" fill="none" stroke="#0000FF" stroke-width="2" stroke-linejoin="round" />
<path d="M683.8 156.4L684.0 155.9L684.2 151.8L684.3 154.2L684.5 154.2L684.7 151.2L684.9 152.8L685.1 154.7L685.2 151.0L685.4 152.7L685.6 153.1L685.8 153.4L686.0 161.3L686.1 151.8L686.3 155.5L686.5 156.4L686.7 154.2L686.9 158.7L687.0 151.5L687.2 157.2L687.4 149.2L687.6 153.9L687.8 153.1L688.0 157.0L688.1 157.1L688.3 153.1L688.5 155.3L688.7 154.6L688.9 159.4L689.0 155.7L689.2 158.1L689.4 157.6L689.6 157.6L689.8 154.0L689.9 156.0L690.1 158.1L690.3 156.1L690.5 153.7L690.7 158.0L690.8 153.7L691.0 147.2L691.2 160.1L691.4 156.9L691.6 155.4L691.7 153.8L691.9 154.7L692.1 157.7L692.3 160.4L692.5 163.5L692.6 162.3L692.8 148.2L693.0 160.2L693.2 152.1L693.4 152.6L693.5 156.6L693.7 161.4L693.9 145.5L694.1 151.2L694.3 153.1L694.4 161.4L694.6 158.7L694.8 159.0L695.0 154.6L695.2 154.6L695.4 153.8L695.5 154.2L695.7 155.1L695.9 154.2L696.1 158.2L696.3 155.1L696.4 152.9L696.6 149.5L696.8 160.3L697.0 151.0L697.2 156.8L697.3 157.3L697.5 155.3L697.7 154.4L697.9 154.8L698.1 154.5L698.2 151.2L698.4 151.2L698.6 157.5L698.8 151.4L699.0 153.8L699.1 159.8L699.3 158.8L699.5 149.5L699.7 150.4L699.9 158.0L700.0 157.6L700.2 152.8L700.4 147.1L700.6 154.9L700.8 149.8L700.9 157.2L701.1 155.1L701.3 156.2L701.5 148.4L701.7 153.1L701.8 156.7L702.0 158.6L702.2 155.5L702.4 152.1L702.6 150.9L702.8 152.8L702.9 154.3L703.1 154.9L703.3 153.9L703.5 150.4L703.7 155.1L703.8 154.4L704.0 154.7L704.2 155.3L704.4 154.0L704.6 155.0L704.7 158.0L704.9 153.7L705.1 157.8L705.3 154.3L705.5 150.4L705.6 151.8L705.8 153.0L706.0 157.2L706.2 154.0L706.4 149.5L706.5 152.9L706.7 153.0L706.9 147.3L707.1 154.4L707.3 158.3L707.4 152.3L707.6 153.4L707.8 157.7L708.0 150.1L708.2 149.2L708.3 157.1L708.5 151.2L708.7 152.6L708.9 154.2L709.1 152.5L709.3 158.2L709.4 148.7L709.6 152.2L709.8 153.6L710.0 149.0L710.2 148.8L710.3 158.1L710.5 154.4L710.7 158.4L710.9 155.7L711.1 152.5L711.2 154.6L711.4 158.0L711.6 153.0L711.8 155.7L712.0 152.4L712.1 157.5L712.3 156.5L712.5 155.5L712.7 155.3L712.9 154.9L713.0 152.9L713.2 153.4L713.4 154.0L713.6 155.4L713.8 158.7L713.9 155.8L714.1 155.7L714.3 155.4L714.5 159.4L714.7 155.9L714.8 155.8L715.0 156.9L715.2 155.5L715.4 154.7L715.6 153.0L715.7 152.0L715.9 157.3L716.1 153.0L716.3 154.7L716.5 151.9L716.7 152.8L716.8 153.8L717.0 156.9L717.2 155.1L717.4 152.1L717.6 156.0L717.7 156.4L717.9 156.7L718.1 154.0L718.3 156.5L718.5 148.3L718.6 154.5L718.8 154.2L719.0 153.4L719.2 153.6L719.4 155.1L719.5 155.4L719.7 152.2L719.9 154.2L720.1 153.0L720.3 154.4L720.4 155.5L720.6 153.6L720.8 153.0L721.0 154.5L721.2 154.4L721.3 152.7L721.5 156.1L721.7 154.8L721.9 154.0L722.1 152.0L722.2 158.6L722.4 154.7L722.6 154.5L722.8 153.8L723.0 148.2L723.1 156.4L723.3 154.0L723.5 151.9L723.7 160.1L723.9 152.0L724.1 152.1L724.2 155.9L724.4 155.8L724.6 151.7L724.8 156.0L725.0 157.3L725.1 156.1L725.3 156.0L725.5 154.1L725.7 154.3L725.9 152.1L726.0 158.3L726.2 153.8L726.4 155.0L726.6 154.3L726.8 155.9L726.9 155.4L727.1 150.9L727.3 158.8L727.5 153.0L727.7 157.1L727.8 152.3L728.0 155.4L728.2 158.5L728.4 156.5L728.6 154.2L728.7 151.6L728.9 150.1L729.1 151.3L729.3 153.8L729.5 153.0L729.6 155.3L729.8 157.9L730.0 158.4L730.2 150.2L730.4 160.2L730.5 153.2L730.7 149.4L730.9 153.0L731.1 151.7L731.3 153.5L731.5 153.1L731.6 159.7L731.8 147.3L732.0 155.5L732.2 156.0L732.4 153.4L732.5 155.4L732.7 154.7L732.9 150.1L733.1 151.5L733.3 155.9L733.4 155.5L733.6 154.1L733.8 157.5L734.0 158.8L734.2 157.2L734.3 159.8L734.5 146.1L734.7 157.9L734.9 151.9L735.1 162.1L735.2 151.1L735.4 154.8L735.6 157.6L735.8 155.3L736.0 157.8L736.1 158.4L736.3 151.2L736.5 155.1L736.7 154.0L736.9 152.0L737.0 155.8L737.2 154.0L737.4 154.2L737.6 155.9L737.8 155.1L737.9 156.7L738.1 153.4L738.3 155.2L738.5 159.1L738.7 151.7L738.9 154.5L739.0 154.7L739.2 152.2L739.4 158.2L739.6 154.4L739.8 155.9L739.9 154.0L740.1 152.8L740.3 154.2L740.5 155.8L740.7 152.4L740.8 152.9L741.0 153.2L741.2 153.9L741.4 156.5L741.6 153.8L741.7 157.3L741.9 154.5L742.1 155.4L742.3 153.7L742.5 151.6L742.6 154.2L742.8 152.7L743.0 154.8L743.2 155.7L743.4 154.7L743.5 158.2L743.7 154.4L743.9 154.8L744.1 153.0L744.3 152.9L744.4 156.7L744.6 152.1L744.8 160.8L745.0 149.0L745.2 158.4L745.3 152.9L745.5 150.0L745.7 155.5L745.9 159.5L746.1 154.7L746.3 154.1L746.4 152.6L746.6 155.0L746.8 155.0L747.0 154.8L747.2 154.5L747.3 156.0L747.5 155.3L747.7 155.5L747.9 153.2L748.1 155.3L748.2 155.0L748.4 151.2L748.6 154.3L748.8 163.5L749.0 153.7L749.1 152.8L749.3 153.0L749.5 154.1L749.7 155.8L749.9 159.5L750.0 151.5L750.2 155.9L750.4 160.2L750.6 149.3L750.8 149.8L750.9 158.3L751.1 149.7L751.3 161.4L751.5 156.7L751.7 154.2L751.8 152.6L752.0 151.8L752.2 152.9L752.4 154.0L752.6 151.9L752.8 157.1L752.9 153.4L753.1 155.7L753.3 157.6L753.5 154.1L753.7 152.8L753.8 153.1L754.0 150.5L754.2 157.0L754.4 154.6L754.6 151.6L754.7 157.9L754.9 155.0L755.1 154.8L755.3 153.8L755.5 155.3L755.6 154.4L755.8 153.5L756.0 156.9L756.2 154.7L756.4 156.5L756.5 154.0L756.7 152.7L756.9 157.8L757.1 155.3L757.3 149.8L757.4 162.6L757.6 145.5L757.8 159.9L758.0 150.9L758.2 152.8L758.3 157.4L758.5 153.6L758.7 154.8L758.9 163.1L759.1 151.5L759.2 150.9L759.4 146.3L759.6 155.4L759.8 154.2L760.0 156.9L760.2 153.8L760.3 154.2L760.5 155.8L760.7 155.6L760.9 148.7L761.1 151.7L761.2 154.3L761.4 151.7L761.6 152.6L761.8 158.6L762.0 152.3L762.1 153.8L762.3 154.3L762.5 152.8L762.7 152.6L762.9 153.4L763.0 163.5L763.2 145.5L763.4 159.8L763.6 147.7L763.8 148.1L763.9 153.1L764.1 156.9L764.3 155.1L764.5 159.7L764.7 157.3L764.8 159.3L765.0 155.4L765.2 156.7L765.4 153.3L765.6 153.5L765.7 155.1L765.9 147.8L766.1 145.5L766.3 156.9L766.5 152.9L766.6 156.3L766.8 152.4L767.0 162.2L767.2 163.5L767.4 151.8L767.6 156.4L767.7 154.3L767.9 153.4L768.1 156.8L768.3 156.4L768.5 154.3L768.6 154.7L768.8 148.7L769.0 154.1L769.2 154.6L769.4 152.8L769.5 153.8L769.7 155.3L769.9 153.3L770.1 158.9L770.3 157.2L770.4 151.8L770.6 154.4L770.8 157.1L771.0 156.7L771.2 155.5L771.3 154.6L771.5 154.0L771.7 151.7L771.9 153.7L772.1 154.1L772.2 154.5L772.4 151.0L772.6 156.3L772.8 155.0L773.0 152.0L773.1 154.3L773.3 151.7L773.5 153.2L773.7 156.1L773.9 157.1L774.0 153.4L774.2 151.4L774.4 154.7L774.6 153.3L774.8 151.9L775.0 155.6L775.1 152.3L775.3 154.6L775.5 154.9L775.7 156.4L775.9 158.1L776.0 157.1L776.2 157.8L776.4 153.8L776.6 154.9L776.8 152.7L776.9 157.4L777.1 154.7L777.3 153.8L777.5 150.5L777.7 156.7L777.8 154.5L778.0 154.6L778.2 150.0L778.4 149.9L778.6 154.5L778.7 154.0L778.9 154.7L779.1 154.7L779.3 153.2L779.5 156.2L779.6 155.3L779.8 153.2L780.0 154.8L780.2 155.3L780.4 156.1L780.5 152.6L780.7 155.3L780.9 155.6L781.1 154.0L781.3 154.5L781.4 154.0L781.6 156.1L781.8 156.4L782.0 152.4L782.2 155.6L782.4 152.7L782.5 155.5L782.7 156.0L782.9 154.7L783.1 158.8L783.3 153.5L783.4 154.6L783.6 154.5L783.8 155.3L784.0 156.2L784.2 156.1L784.3 158.9L784.5 153.8L784.7 154.4L784.9 155.3L785.1 151.5L785.2 153.9L785.4 156.8L785.6 156.1L785.8 155.0L786.0 154.5L786.1 158.0L786.3 153.4L786.5 155.0L786.7 152.2L786.9 152.2L787.0 155.3L787.2 154.7L787.4 155.4L787.6 157.7L787.8 153.1L787.9 156.1L788.1 154.3L788.3 155.1L788.5 157.1L788.7 153.9L788.8 154.9L789.0 153.8L789.2 153.0L789.4 154.1L789.6 154.5L789.8 156.8L789.9 155.4L790.1 156.0L790.3 155.9L790.5 153.5L790.7 153.7L790.8 154.1L791.0 153.7L791.2 153.8L791.4 153.6L791.6 153.1L791.7 154.1L791.9 155.8L792.1 154.5L792.3 154.8L792.5 153.8L792.6 155.2L792.8 153.6L793.0 154.9L793.2 153.4L793.4 153.9L793.5 153.4L793.7 152.5L793.9 156.2L794.1 154.9L794.3 155.2L794.4 154.5L794.6 155.2L794.8 155.2L795.0 154.3L795.2 155.8L795.3 153.8L795.5 154.4L795.7 154.0L795.9 155.8L796.1 154.4L796.3 153.8L796.4 154.2L796.6 153.8L796.8 154.6L797.0 154.4L797.2 155.3L797.3 153.6L797.5 152.1L797.7 157.0L797.9 151.5L798.1 153.6L798.2 156.2L798.4 156.1L798.6 155.7L798.8 156.6L799.0 153.2L799.1 151.7L799.3 153.3L799.5 153.2L799.7 153.0L799.9 156.6L800.0 157.6L800.2 156.0L800.4 154.4L800.6 154.8L800.8 154.6L800.9 154.8L801.1 154.2L801.3 151.2L801.5 154.6L801.7 155.0L801.8 155.2L802.0 153.7L802.2 155.5L802.4 153.8L802.6 156.6L802.7 156.5L802.9 154.7L803.1 152.5L803.3 156.2L803.5 155.0L803.7 154.1L803.8 155.2L804.0 155.3L804.2 154.0L804.4 152.6L804.6 153.5L804.7 155.0L804.9 155.6L805.1 156.6L805.3 155.1L805.5 153.6L805.6 155.4L805.8 156.6L806.0 155.9L806.2 154.5L806.4 154.0L806.5 151.8L806.7 156.9L806.9 150.8L807.1 150.5L807.3 157.3L807.4 154.9L807.6 152.3L807.8 153.1L808.0 153.4L808.2 152.5L808.3 151.3L808.5 155.4L808.7 155.5L808.9 153.3L809.1 153.9L809.2 154.8L809.4 152.3L809.6 157.7L809.8 150.1L810.0 152.5L810.1 155.7L810.3 156.0L810.5 156.9L810.7 153.3L810.9 158.4L811.1 153.5L811.2 155.3L811.4 152.1L811.6 154.4L811.8 155.7L812.0 156.1L812.1 154.0L812.3 154.3L812.5 153.4L812.7 155.3L812.9 158.2L813.0 153.9L813.2 153.8L813.4 152.7L813.6 152.9L813.8 154.6L813.9 155.6L814.1 154.2L814.3 159.5L814.5 152.9L814.7 157.5L814.8 151.6L815.0 155.5L815.2 157.9L815.4 155.6L815.6 153.6L815.7 157.0L815.9 155.1L816.1 155.6L816.3 155.4L816.5 152.1L816.6 157.4L816.8 156.2L817.0 147.9L817.2 153.8L817.4 154.2L817.5 154.9L817.7 153.7L817.9 152.6L818.1 155.1L818.3 157.7L818.5 151.8L818.6 157.5L818.8 155.1L819.0 156.7L819.2 153.1L819.4 154.9L819.5 156.6L819.7 154.8L819.9 153.8L820.1 153.7L820.3 157.8L820.4 154.6L820.6 155.1L820.8 154.2L821.0 153.6L821.2 154.9L821.3 154.1L821.5 154.9L821.7 155.1L821.9 154.6L822.1 153.1L822.2 154.5L822.4 155.9L822.6 155.7L822.8 153.8L823.0 155.6L823.1 154.6L823.3 153.7L823.5 154.7L823.7 153.4L823.9 153.3L824.0 155.8L824.2 152.8L824.4 152.6L824.6 157.3L824.8 151.3L824.9 155.1L825.1 152.6L825.3 155.4L825.5 152.4L825.7 155.0L825.9 151.8L826.0 156.9L826.2 152.2L826.4 155.3L826.6 151.5L826.8 158.7L826.9 156.1L827.1 156.2L827.3 153.8L827.5 154.1L827.7 153.8L827.8 153.6L828.0 153.5L828.2 152.2L828.4 156.5L828.6 151.3L828.7 154.4L828.9 153.2L829.1 154.1L829.3 153.6L829.5 155.4L829.6 156.6L829.8 154.5L830.0 156.9L830.2 159.3L830.4 160.2L830.5 159.1L830.7 156.6L830.9 153.7L831.1 162.5L831.3 145.5L831.4 159.5L831.6 149.4L831.8 147.1L832.0 149.9L832.2 151.3L832.4 158.2L832.5 158.7L832.7 154.5L832.9 152.1L833.1 150.9L833.3 150.7L833.4 163.1L833.6 155.0L833.8 147.7L834.0 156.1L834.2 148.4L834.3 156.7L834.5 152.7L834.7 154.2L834.9 147.6L835.1 155.6L835.2 158.1L835.4 156.1L835.6 153.8L835.8 153.2L836.0 152.8L836.1 154.6L836.3 153.7L836.5 153.0L836.7 156.1L836.9 153.5L837.0 155.5L837.2 155.7L837.4 155.1L837.6 153.9L837.8 155.5L837.9 155.8L838.1 154.8L838.3 153.9L838.5 156.5L838.7 154.3L838.8 154.0L839.0 155.5L839.2 154.0L839.4 153.2L839.6 154.1L839.8 155.6L839.9 154.8L840.1 154.8L840.3 152.3L840.5 153.2L840.7 155.3L840.8 160.2L841.0 153.5L841.2 156.9L841.4 152.5L841.6 157.0L841.7 153.1L841.9 149.6L842.1 153.1L842.3 156.5L842.5 155.6L842.6 154.8L842.8 153.0L843.0 150.2L843.2 156.4L843.4 156.9L843.5 156.7L843.7 155.3L843.9 148.9L844.1 153.3L844.3 152.1L844.4 150.6L844.6 153.8L844.8 154.4L845.0 151.9L845.2 150.1L845.3 162.7L845.5 161.6L845.7 156.8L845.9 158.1L846.1 145.6L846.2 159.7L846.4 154.1L846.6 149.7L846.8 153.2L847.0 165.1L847.2 154.2L847.3 155.4L847.5 153.9L847.7 156.1L847.9 155.4L848.1 155.0L848.2 156.1L848.4 155.8L848.6 157.9L848.8 156.0L849.0 154.9L849.1 153.1L849.3 156.1L849.5 153.3L849.7 153.8L849.9 155.9L850.0 155.1L850.2 154.9L850.4 152.4L850.6 155.8L850.8 153.7L850.9 154.8L851.1 153.9L851.3 155.8L851.5 153.6L851.7 155.8L851.8 154.1L852.0 154.0L852.2 156.3L852.4 157.1L852.6 155.2L852.7 154.3L852.9 154.5L853.1 155.1L853.3 154.4L853.5 154.2L853.6 155.0L853.8 153.8L854.0 155.1L854.2 153.0L854.4 156.3L854.6 158.2L854.7 158.7L854.9 157.4L855.1 150.0L855.3 156.0L855.5 158.8L855.6 155.6L855.8 159.7L856.0 151.3L856.2 149.8L856.4 150.5L856.5 148.4L856.7 157.4L856.9 158.1L857.1 153.7L857.3 153.9L857.4 158.9L857.6 155.6L857.8 153.6L858.0 155.5L858.2 154.5L858.3 158.5L858.5 158.8L858.7 154.0L858.9 153.7L859.1 152.7L859.2 158.0L859.4 154.8L859.6 156.3L859.8 152.7L860.0 156.5L860.1 156.2L860.3 153.6L860.5 158.7L860.7 154.0L860.9 157.1L861.0 151.5L861.2 154.9L861.4 154.5L861.6 152.3L861.8 155.0L862.0 161.0L862.1 156.4L862.3 154.2L862.5 154.1L862.7 153.0L862.9 152.5L863.0 157.2L863.2 152.4L863.4 153.9L863.6 156.2L863.8 154.6L863.9 156.6L864.1 148.8L864.3 156.4L864.5 153.8L864.7 155.6L864.8 155.3L865.0 158.5L865.2 152.1L865.4 153.0L865.6 155.9L865.7 151.0L865.9 158.2L866.1 157.8L866.3 155.6L866.5 155.4L866.6 153.1L866.8 151.3L867.0 154.2L867.2 155.3L867.4 156.1L867.5 153.6L867.7 159.0L867.9 158.9L868.1 156.2L868.3 154.3L868.4 156.8L868.6 156.5L868.8 156.4L869.0 158.0L869.2 153.9L869.4 155.4L869.5 162.9L869.7 153.6L869.9 155.9L870.1 156.6L870.3 142.6L870.4 151.8L870.6 153.9L870.8 154.7L871.0 153.0L871.2 154.9L871.3 150.6L871.5 153.6L871.7 152.4L871.9 151.2L872.1 153.3L872.2 154.4L872.4 155.1L872.6 153.7L872.8 156.6L873.0 154.1L873.1 154.7L873.3 151.6L873.5 155.1L873.7 152.9L873.9 151.5L874.0 152.9L874.2 155.7L874.4 155.4L874.6 154.7L874.8 155.0L874.9 153.5L875.1 153.8L875.3 152.5L875.5 155.7L875.7 152.2L875.9 157.1L876.0 151.6L876.2 152.7L876.4 157.0L876.6 154.6L876.8 154.3L876.9 151.8L877.1 156.8L877.3 153.0L877.5 155.3L877.7 155.0L877.8 155.4L878.0 151.7L878.2 152.1L878.4 154.3L878.6 157.1L878.7 155.6L878.9 152.5L879.1 157.8L879.3 154.0L879.5 152.3L879.6 153.4L879.8 154.7L880.0 151.8L880.2 154.6L880.4 153.1L880.5 154.0L880.7 150.2L880.9 157.2L881.1 151.3L881.3 154.6L881.4 154.7L881.6 154.6L881.8 152.2L882.0 155.5L882.2 152.9L882.3 153.1L882.5 157.1L882.7 154.4L882.9 155.5L883.1 150.7L883.3 155.0L883.4 155.0L883.6 153.0L883.8 157.8L884.0 155.4L884.2 148.7L884.3 161.5L884.5 146.9L884.7 150.9L884.9 154.4L885.1 146.6L885.2 156.4L885.4 159.0L885.6 148.0L885.8 159.1L886.0 145.5L886.1 154.9L886.3 160.9L886.5 157.7L886.7 156.6L886.9 156.5L887.0 154.5L887.2 154.2L887.4 153.2L887.6 152.7L887.8 157.2L887.9 155.3L888.1 157.0L888.3 156.7L888.5 154.6L888.7 154.6L888.8 154.7L889.0 158.7L889.2 152.9L889.4 154.0L889.6 152.0L889.7 153.2L889.9 154.1L890.1 155.4L890.3 152.5L890.5 160.9L890.7 152.6L890.8 156.6L891.0 151.2L891.2 156.0L891.4 163.2L891.6 151.7L891.7 159.9L891.9 156.1L892.1 154.2L892.3 154.6L892.5 153.3L892.6 153.7L892.8 156.2L893.0 150.9L893.2 155.5L893.4 153.1L893.5 150.8L893.7 155.8L893.9 151.7L894.1 150.3L894.3 152.3L894.4 153.7L894.6 157.7L894.8 155.3L895.0 153.4L895.2 153.4L895.3 154.6L895.5 156.7L895.7 153.6L895.9 153.5L896.1 154.8L896.2 154.5L896.4 152.7L896.6 154.0L896.8 152.1L897.0 151.8L897.1 152.5L897.3 152.4L897.5 154.1L897.7 159.7L897.9 155.9L898.1 155.8L898.2 155.7L898.4 153.2L898.6 154.7L898.8 153.1L899.0 154.9L899.1 155.8L899.3 153.8L899.5 156.6L899.7 157.4L899.9 154.9L900.0 155.5L900.2 151.7L900.4 159.0L900.6 154.7L900.8 152.0L900.9 152.5L901.1 153.6L901.3 158.4L901.5 154.9L901.7 155.2L901.8 156.3L902.0 154.3L902.2 156.3L902.4 156.0L902.6 157.3L902.7 153.7L902.9 158.7L903.1 154.8L903.3 153.3L903.5 154.2L903.6 153.8L903.8 152.5L904.0 157.3L904.2 153.5L904.4 153.5L904.5 151.9L904.7 156.3L904.9 149.7L905.1 155.2L905.3 154.7L905.5 154.0L905.6 154.5L905.8 151.5L906.0 154.2L906.2 160.3L906.4 153.5L906.5 153.4L906.7 152.9L906.9 155.3L907.1 153.0L907.3 153.2L907.4 153.2L907.6 152.0L907.8 162.1L908.0 147.7L908.2 152.6L908.3 151.4L908.5 155.4L908.7 151.9L908.9 154.1L909.1 154.3L909.2 153.5L909.4 154.8L909.6 152.3L909.8 155.8L910.0 153.9L910.1 154.3L910.3 155.0L910.5 155.2L910.7 155.6L910.9 156.4L911.0 154.3L911.2 152.7L911.4 147.0L911.6 158.5L911.8 158.8L911.9 155.5L912.1 155.4L912.3 149.5L912.5 158.8L912.7 159.6L912.9 155.0L913.0 160.9L913.2 154.2L913.4 157.5L913.6 155.1L913.8 157.1L913.9 151.6L914.1 154.4L914.3 151.9L914.5 157.2L914.7 153.8L914.8 151.8L915.0 157.2L915.2 156.1L915.4 157.2L915.6 153.8L915.7 156.3L915.9 159.0L916.1 158.6L916.3 154.9L916.5 155.0L916.6 154.6L916.8 152.7L917.0 155.9L917.2 152.6L917.4 156.5L917.5 147.7L917.7 154.7L917.9 156.4L918.1 155.9L918.3 158.9L918.4 153.0L918.6 152.1L918.8 152.6L919.0 155.0L919.2 151.9L919.4 154.8L919.5 153.8L919.7 154.0L919.9 155.9L920.1 155.5L920.3 153.2L920.4 154.9L920.6 157.6L920.8 152.3L921.0 155.8L921.2 153.9L921.3 151.5L921.5 152.0L921.7 154.4L921.9 156.0L922.1 157.1L922.2 154.1L922.4 157.8L922.6 159.6L922.8 154.3L923.0 144.2L923.1 155.2L923.3 153.0L923.5 147.5L923.7 166.3L923.9 149.3L924.0 159.7L924.2 155.8L924.4 139.5L924.6 138.5L924.8 162.0L924.9 165.7L925.1 145.8L925.3 151.5L925.5 131.3L925.7 188.3L925.8 138.7L926.0 141.8L926.2 136.0L926.4 174.3L926.6 154.9L926.8 173.0L926.9 154.5L927.1 161.3L927.3 154.3L927.5 158.6L927.7 155.8L927.8 152.1L928.0 148.8L928.2 139.5L928.4 162.6L928.6 160.0L928.7 136.0L928.9 151.9L929.1 150.5L929.3 165.8L929.5 144.3L929.6 142.8L929.8 146.4L930.0 167.8L930.2 155.6L930.4 152.7L930.5 145.2L930.7 148.0L930.9 166.0L931.1 155.0L931.3 152.9L931.4 149.8L931.6 151.7L931.8 143.6L932.0 155.4L932.2 157.5L932.3 154.7L932.5 155.9L932.7 158.1L932.9 153.8L933.1 161.5L933.2 155.6L933.4 156.9L933.6 149.2L933.8 153.1L934.0 154.7L934.2 154.9L934.3 151.1L934.5 159.7L934.7 156.6L934.9 152.1L935.1 157.9L935.2 159.3L935.4 156.3L935.6 154.3L935.8 156.4L936.0 152.5L936.1 154.1L936.3 155.8L936.5 153.7L936.7 169.8L936.9 153.8L937.0 155.5L937.2 152.0L937.4 153.1L937.6 155.7L937.8 154.0L937.9 155.2L938.1 157.2L938.3 154.1L938.5 156.7L938.7 151.6L938.8 149.5L939.0 157.1L939.2 156.6L939.4 155.1L939.6 153.6L939.7 156.6L939.9 155.5L940.1 151.9L940.3 156.6L940.5 154.4L940.6 157.5L940.8 154.5L941.0 151.9L941.2 154.6L941.4 155.5L941.6 155.2L941.7 151.9L941.9 152.8L942.1 154.9L942.3 157.4L942.5 154.6L942.6 152.2L942.8 154.2L943.0 157.3L943.2 153.8L943.4 155.0L943.5 154.5L943.7 156.5L943.9 156.5L944.1 152.4L944.3 153.4L944.4 156.8L944.6 158.5L944.8 152.1L945.0 153.2L945.2 154.2L945.3 155.6L945.5 150.3L945.7 157.9L945.9 155.4L946.1 153.2L946.2 153.5L946.4 158.6L946.6 152.2L946.8 150.9L947.0 156.0L947.1 151.4L947.3 155.4L947.5 154.5L947.7 154.5L947.9 155.1L948.0 154.2L948.2 150.8L948.4 150.4L948.6 152.6L948.8 152.8L949.0 158.2L949.1 153.4L949.3 154.3L949.5 155.5L949.7 156.5L949.9 152.4L950.0 153.1L950.2 160.6L950.4 148.2L950.6 153.2L950.8 154.1L950.9 152.0L951.1 153.2L951.3 150.7L951.5 155.5L951.7 152.4L951.8 160.3L952.0 147.3L952.2 155.7L952.4 158.9L952.6 154.6L952.7 150.9L952.9 157.7L953.1 155.0L953.3 155.8L953.5 155.1L953.6 163.2L953.8 149.8L954.0 157.7L954.2 152.1L954.4 154.4L954.5 154.6L954.7 155.6L954.9 154.7L955.1 155.3L955.3 154.7L955.4 154.6L955.6 154.2L955.8 153.8L956.0 155.6L956.2 153.0L956.4 152.1L956.5 154.2L956.7 152.1L956.9 152.9L957.1 153.0L957.3 151.9L957.4 158.6L957.6 158.3L957.8 153.2L958.0 151.0L958.2 153.7L958.3 156.6L958.5 157.3L958.7 154.0L958.9 153.8L959.1 157.3L959.2 154.9L959.4 155.0L959.6 155.7L959.8 159.4L960.0 154.6L960.1 151.6L960.3 152.2L960.5 155.1L960.7 156.0L960.9 153.9L961.0 155.3L961.2 154.3L961.4 153.4L961.6 153.9L961.8 152.9L961.9 151.5L962.1 156.6L962.3 152.1L962.5 157.6L962.7 152.3L962.9 156.2L963.0 155.7L963.2 154.1L963.4 155.9L963.6 155.1L963.8 154.3L963.9 155.0L964.1 155.5L964.3 155.7L964.5 156.4L964.7 153.5L964.8 149.0L965.0 155.1L965.2 157.2L965.4 148.2L965.6 156.3L965.7 157.8L965.9 155.9L966.1 153.0L966.3 160.4L966.5 153.6L966.6 163.5L966.8 160.4L967.0 160.2L967.2 157.2L967.4 155.4L967.5 156.3L967.7 154.0L967.9 148.2L968.1 157.1L968.3 152.0L968.4 156.7L968.6 153.6L968.8 158.3L969.0 157.5L969.2 152.6L969.3 145.5L969.5 153.5L969.7 155.0L969.9 156.4L970.1 163.2L970.3 161.5L970.4 153.9L970.6 148.3L970.8 156.7L971.0 154.8L971.2 152.2L971.3 154.6L971.5 151.9L971.7 158.2L971.9 153.7L972.1 157.3L972.2 159.3L972.4 154.5L972.6 153.2L972.8 153.3L973.0 151.6L973.1 154.3L973.3 160.5L973.5 151.5L973.7 155.9L973.9 156.0L974.0 154.5L974.2 154.4L974.4 158.4L974.6 151.2L974.8 148.7L974.9 152.5L975.1 153.9L975.3 163.5L975.5 152.9L975.7 152.9L975.8 152.5L976.0 153.8L976.2 154.2L976.4 154.6L976.6 154.4L976.7 153.0L976.9 154.0L977.1 155.1L977.3 156.1L977.5 157.7L977.7 151.4L977.8 155.0L978.0 152.6L978.2 153.9L978.4 154.3L978.6 153.6L978.7 154.4L978.9 156.7L979.1 155.6L979.3 154.9L979.5 152.8L979.6 147.5L979.8 158.0L980.0 163.5L980.2 152.4L980.4 151.4L980.5 154.9L980.7 154.6L980.9 151.5L981.1 158.8L981.3 159.0L981.4 162.5L981.6 156.4L981.8 154.9L982.0 157.2L982.2 159.3L982.3 152.0L982.5 153.7L982.7 152.1L982.9 151.6L983.1 158.4L983.2 152.7L983.4 157.2L983.6 159.5L983.8 157.1L984.0 155.9L984.1 150.5L984.3 155.0L984.5 153.6L984.7 153.8L984.9 154.9L985.1 150.0L985.2 156.8L985.4 157.3L985.6 159.0L985.8 157.3L986.0 156.7L986.1 155.8L986.3 155.4L986.5 151.4L986.7 152.8L986.9 155.6L987.0 156.4L987.2 155.2L987.4 154.9L987.6 149.2L987.8 157.7L987.9 157.4L988.1 153.4L988.3 157.0L988.5 157.1L988.7 153.7L988.8 157.3L989.0 151.0L989.2 152.9L989.4 155.9L989.6 154.9L989.7 151.7L989.9 154.4L990.1 154.2L990.3 156.1L990.5 151.6L990.6 154.6L990.8 155.9L991.0 151.7L991.2 153.9L991.4 155.3L991.5 152.8L991.7 155.5L991.9 154.8L992.1 152.7L992.3 156.7L992.5 154.7L992.6 153.7L992.8 156.9L993.0 157.1L993.2 155.3L993.4 156.6L993.5 154.2L993.7 154.8L993.9 154.2L994.1 154.2L994.3 157.0L994.4 155.4L994.6 154.1L994.8 151.8L995.0 153.9L995.2 149.6L995.3 155.7L995.5 151.3L995.7 153.0L995.9 157.5L996.1 154.7L996.2 152.6L996.4 157.4L996.6 151.1L996.8 155.8L997.0 153.5L997.1 155.1L997.3 153.6L997.5 156.4L997.7 150.7L997.9 151.7L998.0 155.1L998.2 156.1L998.4 153.2L998.6 154.4L998.8 155.1L998.9 156.7L999.1 155.0L999.3 154.8L999.5 156.1L999.7 156.7L999.9 156.2L1000.0 156.4L1000.2 152.7L1000.4 153.1L1000.6 156.7L1000.8 154.9L1000.9 153.7L1001.1 155.8L1001.3 154.9L1001.5 152.6L1001.7 155.2L1001.8 155.4L1002.0 152.2L1002.2 154.8L1002.4 154.7L1002.6 156.5L1002.7 152.6L1002.9 154.2L1003.1 155.3L1003.3 151.5L1003.5 154.9L1003.6 155.0L1003.8 154.4L1004.0 154.5L1004.2 152.5L1004.4 155.3L1004.5 155.6L1004.7 156.3L1004.9 154.3L1005.1 157.7L1005.3 155.9L1005.4 158.2L1005.6 154.9L1005.8 155.2L1006.0 155.9L1006.2 156.6L1006.4 154.2L1006.5 159.6L1006.7 157.0L1006.9 151.1L1007.1 154.1L1007.3 151.4L1007.4 149.2L1007.6 154.3L1007.8 157.4L1008.0 153.5L1008.2 157.2L1008.3 154.5L1008.5 154.0L1008.7 155.9L1008.9 155.9L1009.1 156.2L1009.2 145.5L1009.4 155.5L1009.6 149.8L1009.8 159.5L1010.0 157.1L1010.1 145.5L1010.3 159.9L1010.5 151.6L1010.7 151.5L1010.9 151.5L1011.0 148.9L1011.2 156.3L1011.4 152.9L1011.6 155.9L1011.8 151.8L1011.9 154.0L1012.1 155.6L1012.3 151.7L1012.5 159.4L1012.7 152.3L1012.8 156.6L1013.0 163.5L1013.2 148.6L1013.4 155.3L1013.6 156.4L1013.8 156.9L1013.9 163.5L1014.1 153.7L1014.3 155.2L1014.5 152.5L1014.7 151.0L1014.8 155.5L1015.0 157.5L1015.2 152.1L1015.4 153.4L1015.6 151.5L1015.7 154.1L1015.9 154.0L1016.1 156.1L1016.3 151.5L1016.5 154.4L1016.6 151.9L1016.8 156.4L1017.0 152.4L1017.2 151.4L1017.4 162.2L1017.5 156.0L1017.7 152.8L1017.9 151.2L1018.1 154.6L1018.3 157.0L1018.4 153.5L1018.6 155.9L1018.8 163.3L1019.0 160.6L1019.2 153.3L1019.3 157.2L1019.5 151.0L1019.7 163.5L1019.9 154.3L1020.1 160.8L1020.2 150.3L1020.4 162.5L1020.6 149.7L1020.8 155.9L1021.0 154.9L1021.2 154.2L1021.3 158.2L1021.5 155.1L1021.7 145.5L1021.9 154.5L1022.1 157.8L1022.2 147.4L1022.4 153.8L1022.6 152.1L1022.8 163.5L1023.0 158.6L1023.1 162.2L1023.3 145.5L1023.5 146.8L1023.7 153.9L1023.9 163.1L1024.0 163.5L1024.2 159.7L1024.4 163.1L1024.6 154.2L1024.8 163.5L1024.9 154.8L1025.1 157.5L1025.3 154.0L1025.5 157.7L1025.7 156.0L1025.8 157.4L1026.0 148.0L1026.2 159.2L1026.4 153.9L1026.6 157.8L1026.7 156.6L1026.9 151.6L1027.1 155.2L1027.3 155.0L1027.5 161.9L1027.6 149.8L1027.8 152.5L1028.0 162.1L1028.2 158.2L1028.4 155.2L1028.6 158.3L1028.7 154.5L1028.9 157.1L1029.1 151.0L1029.3 151.3L1029.5 151.7L1029.6 157.2L1029.8 153.9L1030.0 151.7L1030.2 156.8L1030.4 157.9L1030.5 154.3L1030.7 150.2L1030.9 155.0L1031.1 147.9L1031.3 155.5L1031.4 152.2L1031.6 149.8L1031.8 157.5L1032.0 151.7L1032.2 159.1L1032.3 156.4L1032.5 155.9L1032.7 150.1L1032.9 158.1L1033.1 162.1L1033.2 154.2L1033.4 150.2L1033.6 154.6L1033.8 145.5L1034.0 154.2L1034.1 162.0L1034.3 155.7L1034.5 149.1L1034.7 163.5L1034.9 163.5L1035.0 145.5L1035.2 161.1L1035.4 149.1L1035.6 152.0L1035.8 156.4L1036.0 153.5L1036.1 155.8L1036.3 152.5L1036.5 154.0L1036.7 155.2L1036.9 150.5L1037.0 154.8L1037.2 157.5L1037.4 155.7L1037.6 155.7L1037.8 150.8L1037.9 152.9L1038.1 156.1L1038.3 156.1L1038.5 154.5L1038.7 148.3L1038.8 156.7L1039.0 157.2L1039.2 155.8L1039.4 156.1L1039.6 151.5L1039.7 154.4L1039.9 156.3L1040.1 155.4L1040.3 157.2L1040.5 155.2L1040.6 154.9L1040.8 149.3L1041.0 157.8L1041.2 154.5L1041.4 159.6L1041.5 145.5L1041.7 152.5L1041.9 161.1L1042.1 156.7L1042.3 157.1L1042.5 160.6L1042.6 153.9L1042.8 154.9L1043.0 147.4L1043.2 155.9L1043.4 163.5L1043.5 148.2L1043.7 148.9L1043.9 151.3L1044.1 154.3L1044.3 157.0L1044.4 152.9L1044.6 153.9L1044.8 155.6L1045.0 153.4L1045.2 156.1L1045.3 154.5L1045.5 153.9L1045.7 153.1L1045.9 153.4L1046.1 159.8L1046.2 155.5L1046.4 153.6L1046.6 158.7L1046.8 150.2L1047.0 158.3L1047.1 149.5L1047.3 153.8L1047.5 153.5L1047.7 160.5L1047.9 157.8L1048.0 153.6L1048.2 153.5L1048.4 155.3L1048.6 155.9L1048.8 148.7L1048.9 157.4L1049.1 152.2L1049.3 152.7L1049.5 153.8L1049.7 160.0L1049.9 147.1L1050.0 148.2L1050.2 158.5L1050.4 158.4L1050.6 159.0L1050.8 161.0L1050.9 154.9L1051.1 159.0L1051.3 154.4L1051.5 152.5L1051.7 157.7L1051.8 160.1L1052.0 150.5L1052.2 155.4L1052.4 158.6L1052.6 152.7L1052.7 153.7L1052.9 151.4L1053.1 154.0L1053.3 156.6L1053.5 157.2L1053.6 154.1L1053.8 159.7L1054.0 157.3L1054.2 151.6L1054.4 151.9L1054.5 152.6L1054.7 155.8L1054.9 157.1L1055.1 154.1L1055.3 151.0L1055.4 158.6L1055.6 146.8L1055.8 149.4L1056.0 159.7L1056.2 158.1L1056.3 151.7L1056.5 153.1L1056.7 150.1L1056.9 152.8L1057.1 155.0L1057.3 156.6L1057.4 153.1L1057.6 156.5L1057.8 155.4L1058.0 154.4L1058.2 155.8L1058.3 157.7L1058.5 153.1L1058.7 158.8L1058.9 154.6L1059.1 156.7L1059.2 154.5L1059.4 150.6L1059.6 148.1L1059.8 152.5L1060.0 155.1L1060.1 154.9L1060.3 154.0L1060.5 157.0L1060.7 155.4L1060.9 154.0L1061.0 154.0L1061.2 155.2L1061.4 156.1L1061.6 154.1L1061.8 156.0L1061.9 151.4L1062.1 154.8L1062.3 155.3L1062.5 152.8L1062.7 155.9L1062.8 153.3L1063.0 157.3L1063.2 153.9L1063.4 155.8L1063.6 156.9L1063.7 154.6L1063.9 154.8L1064.1 154.7L1064.3 153.7L1064.5 156.4L1064.7 152.4L1064.8 151.3L1065.0 157.5L1065.2 155.6L1065.4 154.7L1065.6 154.1L1065.7 154.7L1065.9 154.9L1066.1 153.8L1066.3 155.1L1066.5 155.2L1066.6 153.8L1066.8 154.4L1067.0 153.7L1067.2 153.0L1067.4 156.0L1067.5 154.1L1067.7 152.8L1067.9 154.4L1068.1 154.5L1068.3 153.0L1068.4 153.9L1068.6 155.9L1068.8 153.5L1069.0 156.2L1069.2 154.1L1069.3 155.1L1069.5 160.4L1069.7 155.0L1069.9 153.5L1070.1 153.3L1070.2 154.8L1070.4 157.4L1070.6 158.4L1070.8 160.6L1071.0 152.0L1071.1 151.1L1071.3 149.8L1071.5 157.6L1071.7 152.8L1071.9 156.8L1072.1 159.6L1072.2 154.9L1072.4 156.0L1072.6 153.1L1072.8 152.7L1073.0 154.1L1073.1 150.6L1073.3 149.8L1073.5 155.4L1073.7 149.3L1073.9 155.3L1074.0 156.0L1074.2 153.8L1074.4 156.4L1074.6 152.4L1074.8 151.1L1074.9 155.6L1075.1 151.8L1075.3 155.0L1075.5 147.5L1075.7 152.3L1075.8 149.1L1076.0 151.8L1076.2 156.8L1076.4 153.4L1076.6 156.3L1076.7 151.9L1076.9 154.8L1077.1 150.1L1077.3 156.1L1077.5 156.7L1077.6 152.3L1077.8 154.9L1078.0 157.4L1078.2 151.5L1078.4 154.1L1078.5 154.4L1078.7 155.8L1078.9 153.9L1079.1 155.7L1079.3 154.8L1079.5 152.9L1079.6 156.7L1079.8 150.2L1080.0 154.6L1080.2 156.0L1080.4 153.8L1080.5 157.7L1080.7 152.9L1080.9 150.9L1081.1 158.8L1081.3 154.8L1081.4 154.0L1081.6 156.6L1081.8 156.1L1082.0 156.6L1082.2 153.7L1082.3 156.4L1082.5 154.2L1082.7 155.2L1082.9 152.5L1083.1 155.2L1083.2 153.8L1083.4 154.0L1083.6 155.3L1083.8 155.5L1084.0 153.4L1084.1 154.9L1084.3 156.2L1084.5 152.5L1084.7 155.3L1084.9 151.3L1085.0 157.0L1085.2 160.0L1085.4 157.1L1085.6 151.4L1085.8 157.3L1086.0 155.2L1086.1 154.7L1086.3 153.8L1086.5 150.9L1086.7 151.8L1086.9 152.1L1087.0 155.9L1087.2 151.7L1087.4 160.3L1087.6 154.6L1087.8 158.2L1087.9 163.5L1088.1 156.7L1088.3 150.4L1088.5 156.6L1088.7 148.1L1088.8 151.1L1089.0 152.9L1089.2 154.0L1089.4 155.7L1089.6 156.4L1089.7 154.4L1089.9 153.0L1090.1 152.0L1090.3 152.6L1090.5 154.5L1090.6 152.1L1090.8 154.8L1091.0 156.9L1091.2 154.1L1091.4 152.6L1091.5 155.3L1091.7 153.4L1091.9 153.9L1092.1 154.9L1092.3 155.7L1092.4 153.8L1092.6 151.9L1092.8 151.4L1093.0 149.8L1093.2 151.2L1093.4 152.6L1093.5 146.4L1093.7 150.6L1093.9 151.4L1094.1 156.0L1094.3 156.4L1094.4 157.6L1094.6 157.7L1094.8 156.2L1095.0 156.0L1095.2 161.2L1095.3 156.0L1095.5 155.9L1095.7 157.3L1095.9 149.7L1096.1 151.6L1096.2 153.5L1096.4 157.4L1096.6 154.7L1096.8 153.2L1097.0 154.5L1097.1 152.9L1097.3 157.0L1097.5 155.3L1097.7 151.6L1097.9 153.4L1098.0 152.4L1098.2 158.3L1098.4 153.8L1098.6 152.4L1098.8 152.5L1098.9 153.5L1099.1 158.7L1099.3 155.1L1099.5 159.5L1099.7 154.7L1099.8 151.2L1100.0 154.5L1100.2 153.2L1100.4 154.1L1100.6 155.1L1100.8 154.0L1100.9 154.9L1101.1 148.2L1101.3 152.2L1101.5 156.6L1101.7 153.1L1101.8 155.3L1102.0 155.1L1102.2 155.5L1102.4 152.8L1102.6 154.8L1102.7 158.0L1102.9 154.9L1103.1 155.7L1103.3 158.8L1103.5 153.2L1103.6 152.0L1103.8 161.8L1104.0 161.0L1104.2 150.0L1104.4 153.8L1104.5 158.1L1104.7 153.6L1104.9 153.8L1105.1 155.6L1105.3 156.6L1105.4 156.0L1105.6 154.3L1105.8 159.3L1106.0 156.0L1106.2 154.1L1106.3 158.7L1106.5 158.7L1106.7 156.3L1106.9 152.6L1107.1 155.1L1107.2 156.3L1107.4 159.1L1107.6 155.1L1107.8 148.6L1108.0 157.2L1108.2 148.2L1108.3 160.9L1108.5 158.1L1108.7 150.9L1108.9 155.7L1109.1 153.3L1109.2 156.9L1109.4 155.9L1109.6 157.3L1109.8 152.9L1110.0 154.1L1110.1 152.7L1110.3 153.9L1110.5 153.8L1110.7 154.6L1110.9 154.0L1111.0 156.4L1111.2 155.4L1111.4 156.7L1111.6 160.0L1111.8 156.1L1111.9 151.6L1112.1 152.8L1112.3 152.3L1112.5 154.2L1112.7 153.3L1112.8 156.1L1113.0 157.5L1113.2 156.6L1113.4 158.1L1113.6 161.2L1113.7 149.8L1113.9 163.0L1114.1 150.8L1114.3 150.7L1114.5 154.8L1114.6 154.8L1114.8 152.5L1115.0 158.8L1115.2 155.1L1115.4 150.7L1115.6 151.8L1115.7 155.9L1115.9 157.1L1116.1 156.3L1116.3 153.3L1116.5 157.4L1116.6 152.5L1116.8 157.8L1117.0 153.6L1117.2 155.4L1117.4 147.3L1117.5 153.6L1117.7 152.6L1117.9 149.3L1118.1 156.3L1118.3 153.3L1118.4 151.3L1118.6 154.3L1118.8 155.3L1119.0 155.1L1119.2 152.0L1119.3 154.3L1119.5 150.8L1119.7 154.6L1119.9 152.9L1120.1 156.6L1120.2 153.3L1120.4 154.8L1120.6 153.1L1120.8 155.6L1121.0 154.5L1121.1 156.8L1121.3 153.4L1121.5 155.0L1121.7 154.5L1121.9 155.7L1122.0 152.9L1122.2 154.3L1122.4 157.7L1122.6 155.8L1122.8 151.5L1123.0 147.8L1123.1 147.3L1123.3 151.4L1123.5 150.7L1123.7 151.9L1123.9 158.0L1124.0 155.5L1124.2 159.7L1124.4 159.8L1124.6 155.0L1124.8 153.4L1124.9 152.2L1125.1 161.7L1125.3 159.7L1125.5 158.1L1125.7 151.5L1125.8 157.0L1126.0 160.9L1126.2 151.8L1126.4 156.1L1126.6 159.0L1126.7 147.7L1126.9 149.5L1127.1 157.8L1127.3 153.9L1127.5 157.0L1127.6 157.5L1127.8 155.0L1128.0 156.0L1128.2 153.9L1128.4 153.2L1128.5 155.0L1128.7 157.4L1128.9 152.9L1129.1 155.5L1129.3 151.4L1129.5 153.2L1129.6 154.6L1129.8 151.6L1130.0 156.5L1130.2 154.4L1130.4 153.2L1130.5 154.5L1130.7 157.3L1130.9 151.1L1131.1 157.6L1131.3 161.7L1131.4 156.0L1131.6 151.9L1131.8 154.5L1132.0 155.3L1132.2 154.7L1132.3 153.5L1132.5 155.6L1132.7 156.3L1132.9 155.5L1133.1 156.6L1133.2 155.0L1133.4 152.5L1133.6 156.8L1133.8 158.5L1134.0 146.8L1134.1 150.2L1134.3 152.7L1134.5 153.1L1134.7 155.1L1134.9 151.4L1135.0 161.6L1135.2 154.1L1135.4 151.0L1135.6 152.0L1135.8 156.3L1135.9 155.8L1136.1 152.8L1136.3 151.9L1136.5 156.7L1136.7 155.2L1136.9 154.4L1137.0 156.8L1137.2 151.7L1137.4 156.3L1137.6 153.7L1137.8 154.9L1137.9 154.9L1138.1 156.3L1138.3 156.9L1138.5 153.0L1138.7 153.0L1138.8 156.5L1139.0 157.4L1139.2 155.1L1139.4 157.5L1139.6 155.5L1139.7 158.5L1139.9 148.5L1140.1 158.6L1140.3 163.5L1140.5 156.3L1140.6 151.4L1140.8 158.7L1141.0 149.7L1141.2 157.7L1141.4 152.4L1141.5 150.2L1141.7 155.5L1141.9 146.2L1142.1 160.8L1142.3 147.5L1142.4 157.7L1142.6 155.9L1142.8 162.8L1143.0 157.3L1143.2 157.0L1143.3 161.1L1143.5 159.3L1143.7 156.6L1143.9 149.9L1144.1 158.5L1144.3 159.3L1144.4 156.9L1144.6 147.6L1144.8 158.3L1145.0 155.1L1145.2 147.0L1145.3 154.9L1145.5 158.1L1145.7 162.0L1145.9 155.9L1146.1 158.5L1146.2 145.5L1146.4 157.1L1146.6 156.7L1146.8 155.0L1147.0 154.5L1147.1 152.1L1147.3 156.5L1147.5 156.0" fill="none" stroke="#FFFF00" stroke-width="1" stroke-linejoin="round" />
<rect x="1002.5" y="65.5" width="164" height="48" fill="#fff" stroke="#000"/>
<path d="M1014.5 81h24" stroke="#0000FF" stroke-width="2"/>
<path d="M1014.5 97.5h24" stroke="#FFFF00" stroke-width="1"/>
<text x="1050.5" y="86.5">NVRO stock return</text>
<text x="1050.5" y="102.5">GSPC stock return</text>
<text x="314.6" y="439.5" text-anchor="middle" font-size="16" font-weight="bold">NVRO versus S&amp;P500 stock return distribution</text>
<rect x="65.5" y="465.5" width="501.0" height="253.0" fill="none" stroke="#000" stroke-width="1"/>
<path d="M77.5 718.5H493.5" stroke="#000" fill="none"/>
<path d="M77.5 718.5v8M181.5 718.5v8M285.5 718.5v8M389.5 718.5v8M493.5 718.5v8" stroke="#000" fill="none"/>
<text x="77.5" y="748" text-anchor="middle">-0.6</text>
<text x="181.5" y="748" text-anchor="middle">-0.4</text>
<text x="285.5" y="748" text-anchor="middle">-0.2</text>
<text x="389.5" y="748" text-anchor="middle">0.0</text>
<text x="493.5" y="748" text-anchor="middle">0.2</text>
<path d="M65.5 709.5V491.5" stroke="#000" fill="none"/>
<path d="M65.5 709.5h-9M65.5 673.5h-9M65.5 636.5h-9M65.5 600.5h-9M65.5 564.5h-9M65.5 527.5h-9M65.5 491.5h-9" stroke="#000" fill="none"/>
<text transform="translate(47 709.5) rotate(-90)" text-anchor="middle">0</text>
<text transform="translate(47 673.5) rotate(-90)" text-anchor="middle">10</text>
<text transform="translate(47 636.5) rotate(-90)" text-anchor="middle">20</text>
<text transform="translate(47 600.5) rotate(-90)" text-anchor="middle">30</text>
<text transform="translate(47 564.5) rotate(-90)" text-anchor="middle">40</text>
<text transform="translate(47 527.5) rotate(-90)" text-anchor="middle">50</text>
<text transform="translate(47 491.5) rotate(-90)" text-anchor="middle">60</text>
<path d="M76.7 709.0L280.0 709.0L300.2 708.7L303.6 707.7L307.0 708.7L320.5 708.3L323.9 707.3L327.2 708.3L335.7 708.0L340.0 707.6L346.0 706.1L352.0 704.9L358.0 702.7L364.0 701.2L367.0 698.2L370.0 693.0L373.0 685.5L376.0 676.5L379.0 667.5L381.2 660.0L383.5 652.5L385.7 647.7L388.7 645.4L391.7 647.7L393.7 654.0L395.8 663.0L398.5 672.0L401.5 679.5L404.5 687.0L407.5 693.0L409.7 696.7L413.5 699.0L418.0 701.9L424.0 704.9L430.0 706.7L440.0 707.6L442.0 708.3L455.5 708.3L458.8 708.7L470.6 708.7L472.3 707.7L475.7 707.7L477.4 708.7L500.0 708.7L555.5 709.0" fill="none" stroke="#228B22" stroke-width="2" stroke-linejoin="round" />
<path d="M347.5 709.5L357.2 708.5L362.5 708.2L367.0 707.5L371.5 705.2L375.2 703.0L377.5 698.5L379.3 690.3L380.8 678.3L382.4 664.8L383.9 649.8L385.0 634.8L385.7 618.3L386.8 600.3L386.3 578.4L387.6 510.9L388.7 480.5L389.3 479.5L390.3 510.9L391.7 578.4L392.5 600.3L393.4 615.3L394.3 630.3L395.5 645.3L396.5 660.3L397.4 672.3L398.5 685.8L399.7 697.8L401.8 702.2L403.7 706.0L406.0 707.9L410.5 708.5L424.0 709.5L432.0 709.5" fill="none" stroke="#FFA500" stroke-width="1" stroke-linejoin="round" />
<path d="M66 709.5H566" stroke="#BEBEBE" stroke-width="1"/>
<rect x="65.5" y="465.5" width="194.5" height="48" fill="#fff" stroke="#000"/>
<path d="M77.5 481h24" stroke="#228B22" stroke-width="2"/>
<path d="M77.5 497.5h24" stroke="#FFA500" stroke-width="1"/>
<text x="112.8" y="486.5" font-size="12.88">NVRO return distribution</text>
<text x="112.8" y="502.5" font-size="12.88">GSPC return distribution</text>
<text x="914.6" y="439.5" text-anchor="middle" font-size="16" font-weight="bold">NVRO versus S&amp;P500 return frequency distribution</text>
<g stroke="#000" stroke-width="1" shape-rendering="crispEdges">
<path d="M683.0 716.5H690.0" fill="none"/>
<path d="M689.0 716.5H695.0" fill="none"/>
<path d="M699.0 716.5H705.0" fill="none"/>
<path d="M704.0 716.5H711.0" fill="none"/>
<path d="M715.0 716.5H721.0" fill="none"/>
<path d="M720.0 716.5H726.0" fill="none"/>
<path d="M730.0 716.5H737.0" fill="none"/>
<path d="M736.0 716.5H742.0" fill="none"/>
<path d="M746.0 716.5H752.0" fill="none"/>
<path d="M751.0 716.5H757.0" fill="none"/>
<path d="M762.0 716.5H768.0" fill="none"/>
<path d="M767.0 716.5H773.0" fill="none"/>
<path d="M777.0 716.5H784.0" fill="none"/>
<path d="M783.0 716.5H789.0" fill="none"/>
<path d="M793.0 716.5H799.0" fill="none"/>
<path d="M798.0 716.5H804.0" fill="none"/>
<path d="M809.0 716.5H815.0" fill="none"/>
<path d="M814.0 716.5H820.0" fill="none"/>
<path d="M824.0 716.5H830.0" fill="none"/>
<path d="M829.0 716.5H836.0" fill="none"/>
<path d="M840.0 716.5H846.0" fill="none"/>
<path d="M845.0 716.5H851.0" fill="none"/>
<path d="M856.0 716.5H862.0" fill="none"/>
<path d="M861.0 716.5H867.0" fill="none"/>
<path d="M871.0 716.5H877.0" fill="none"/>
<path d="M876.0 716.5H883.0" fill="none"/>
<rect x="887.5" y="715.5" width="5.0" height="1.0" fill="#0000FF"/>
<path d="M892.0 716.5H898.0" fill="none"/>
<rect x="902.5" y="715.5" width="6.0" height="1.0" fill="#0000FF"/>
<path d="M908.0 716.5H914.0" fill="none"/>
<rect x="918.5" y="715.5" width="5.0" height="1.0" fill="#0000FF"/>
<path d="M923.0 716.5H930.0" fill="none"/>
<rect x="934.5" y="713.5" width="5.0" height="3.0" fill="#0000FF"/>
<path d="M939.0 716.5H945.0" fill="none"/>
<rect x="949.5" y="705.5" width="6.0" height="11.0" fill="#0000FF"/>
<path d="M955.0 716.5H961.0" fill="none"/>
<rect x="965.5" y="669.5" width="5.0" height="47.0" fill="#0000FF"/>
<rect x="970.5" y="708.5" width="5.0" height="8.0" fill="#FFFF00"/>
<rect x="981.5" y="573.5" width="5.0" height="143.0" fill="#0000FF"/>
<rect x="986.5" y="465.5" width="5.0" height="251.0" fill="#FFFF00"/>
<rect x="996.5" y="631.5" width="6.0" height="85.0" fill="#0000FF"/>
<rect x="1002.5" y="657.5" width="5.0" height="59.0" fill="#FFFF00"/>
<rect x="1012.5" y="695.5" width="5.0" height="21.0" fill="#0000FF"/>
<rect x="1017.5" y="715.5" width="5.0" height="1.0" fill="#FFFF00"/>
<rect x="1028.5" y="711.5" width="5.0" height="5.0" fill="#0000FF"/>
<path d="M1033.0 716.5H1039.0" fill="none"/>
<rect x="1043.5" y="714.5" width="5.0" height="2.0" fill="#0000FF"/>
<path d="M1048.0 716.5H1055.0" fill="none"/>
<rect x="1059.5" y="715.5" width="5.0" height="1.0" fill="#0000FF"/>
<path d="M1064.0 716.5H1070.0" fill="none"/>
<rect x="1075.5" y="715.5" width="5.0" height="1.0" fill="#0000FF"/>
<path d="M1080.0 716.5H1086.0" fill="none"/>
<rect x="1090.5" y="715.5" width="5.0" height="1.0" fill="#0000FF"/>
<path d="M1095.0 716.5H1102.0" fill="none"/>
<path d="M1106.0 716.5H1112.0" fill="none"/>
<path d="M1111.0 716.5H1117.0" fill="none"/>
<path d="M1121.0 716.5H1128.0" fill="none"/>
<path d="M1127.0 716.5H1133.0" fill="none"/>
<path d="M1137.0 716.5H1143.0" fill="none"/>
<path d="M1142.0 716.5H1149.0" fill="none"/>
</g>
<rect x="665.5" y="465.5" width="501" height="253" fill="none" stroke="#000"/>
<path d="M665.5 716.5V468.5" stroke="#000" fill="none"/>
<path d="M665.5 716.5h-9M665.5 654.5h-9M665.5 592.5h-9M665.5 530.5h-9M665.5 468.5h-9" stroke="#000" fill="none"/>
<text transform="translate(647 716.5) rotate(-90)" text-anchor="middle">0</text>
<text transform="translate(647 654.5) rotate(-90)" text-anchor="middle">500</text>
<text transform="translate(647 592.5) rotate(-90)" text-anchor="middle">1000</text>
<text transform="translate(647 530.5) rotate(-90)" text-anchor="middle">1500</text>
<text transform="translate(647 468.5) rotate(-90)" text-anchor="middle">2000</text>
<text x="688.7" y="748" text-anchor="middle" font-size="12.85">[-0.587,-0.558)</text>
<text x="798.2" y="748" text-anchor="middle" font-size="12.85">[-0.379,-0.349)</text>
<text x="907.7" y="748" text-anchor="middle" font-size="12.85">[-0.171,-0.141)</text>
<text x="1017.2" y="748" text-anchor="middle" font-size="12.85">[0.0375,0.0673)</text>
<text x="1126.7" y="748" text-anchor="middle" font-size="12.85">[0.246,0.276)</text>
<text x="914.5" y="780" text-anchor="middle">return</text>
<text transform="translate(615 593) rotate(-90)" text-anchor="middle">frequency</text>
<rect x="993.5" y="465.5" width="173" height="48" fill="#fff" stroke="#000"/>
<rect x="1005.5" y="477.5" width="9" height="8" fill="#0000FF" stroke="#000"/>
<rect x="1005.5" y="493.5" width="9" height="8" fill="#FFFF00" stroke="#000"/>
<text x="1025.5" y="486.5" font-size="12.86">NVRO return frequency</text>
<text x="1025.5" y="502.5" font-size="12.86">GSPC return frequency</text>
</svg>
</body></html>
